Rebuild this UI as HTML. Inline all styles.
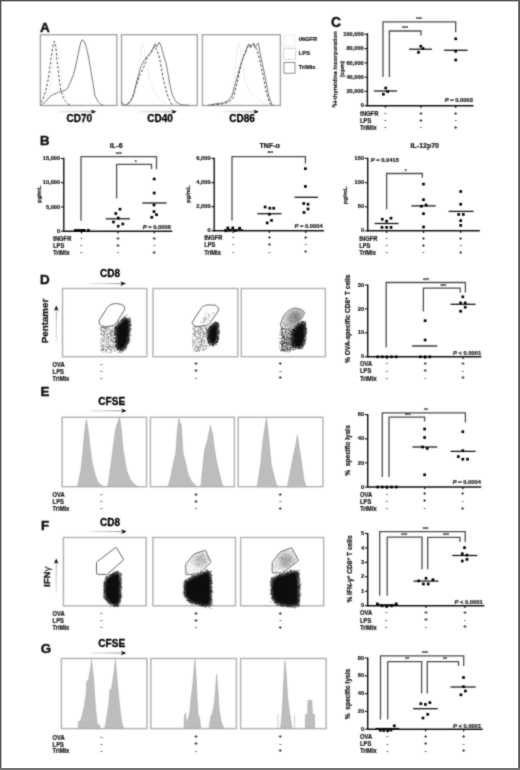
<!DOCTYPE html>
<html><head><meta charset="utf-8"><title>Figure</title>
<style>html,body{margin:0;padding:0;background:#fff;}svg{display:block;}</style>
</head><body>
<svg width="520" height="770" viewBox="0 0 520 770" font-family='"Liberation Sans", Arial, sans-serif'>
<defs><linearGradient id="gh" x1="0" y1="0" x2="1" y2="0"><stop offset="0" stop-color="#e4e4e4"/><stop offset="0.5" stop-color="#c4c4c4"/><stop offset="1" stop-color="#8a8a8a"/></linearGradient><linearGradient id="gv" x1="0" y1="1" x2="0" y2="0"><stop offset="0" stop-color="#e4e4e4"/><stop offset="0.5" stop-color="#c8c8c8"/><stop offset="1" stop-color="#999"/></linearGradient><filter id="blur1" x="-20%" y="-20%" width="140%" height="140%"><feGaussianBlur stdDeviation="0.9"/></filter><filter id="blurS" x="-10%" y="-10%" width="120%" height="120%"><feGaussianBlur stdDeviation="0.4"/></filter><filter id="gblur" x="0" y="0" width="520" height="770" filterUnits="userSpaceOnUse"><feConvolveMatrix order="3" kernelMatrix="0.03 0.1 0.03 0.1 0.5 0.1 0.03 0.1 0.03" edgeMode="none"/></filter><filter id="blur2" x="-20%" y="-20%" width="140%" height="140%"><feGaussianBlur stdDeviation="1.0"/></filter></defs>
<rect width="520" height="770" fill="#fff"/>
<g filter="url(#gblur)">
<text x="40" y="31.74" font-size="13.6" font-weight="bold" text-anchor="start" fill="#111" stroke="#111" stroke-width="0.41">A</text>
<rect x="40.4" y="34.7" width="76.5" height="70.8" stroke="#a5a5a5" fill="none" stroke-width="1.4"/>
<rect x="121.5" y="34.7" width="75.8" height="70.8" stroke="#a5a5a5" fill="none" stroke-width="1.4"/>
<rect x="202.4" y="34.7" width="78" height="70.8" stroke="#a5a5a5" fill="none" stroke-width="1.4"/>
<rect x="58.65" y="111.3" width="35.5" height="1" fill="url(#gh)"/>
<path d="M90.65 109.5 L96.15 111.8 L90.65 114.1 L92.15 111.8Z" stroke="none" fill="#000" stroke-width="1"/>
<text x="79.25" y="122" font-size="10" font-weight="bold" text-anchor="middle" fill="#000" stroke="#000" stroke-width="0.3">CD70</text>
<rect x="139.4" y="111.3" width="35.5" height="1" fill="url(#gh)"/>
<path d="M171.4 109.5 L176.9 111.8 L171.4 114.1 L172.9 111.8Z" stroke="none" fill="#000" stroke-width="1"/>
<text x="160" y="122" font-size="10" font-weight="bold" text-anchor="middle" fill="#000" stroke="#000" stroke-width="0.3">CD40</text>
<rect x="221.4" y="111.3" width="35.5" height="1" fill="url(#gh)"/>
<path d="M253.4 109.5 L258.9 111.8 L253.4 114.1 L254.9 111.8Z" stroke="none" fill="#000" stroke-width="1"/>
<text x="242" y="122" font-size="10" font-weight="bold" text-anchor="middle" fill="#000" stroke="#000" stroke-width="0.3">CD86</text>
<path d="M43 104 L47 99 L50 86 L52.5 62 L54.5 47 L56 44 L58 52 L60 70 L62.5 88 L65.5 99 L69 104.5" stroke="#ebebeb" fill="none" stroke-width="0.9" stroke-linejoin="round"/>
<path d="M130 103 L134 96 L137 82 L139.5 62 L141.5 47 L142.4 43.8 L144 48 L146.5 62 L149.5 79.3 L153 89 L155.9 95 L160 100 L166 103.5" stroke="#ebebeb" fill="none" stroke-width="0.9" stroke-linejoin="round"/>
<path d="M224 104.5 L229 101 L231.5 96 L234 80 L236 58 L237.6 45 L238.6 42.3 L240 48 L242 62 L245.7 82.5 L249 90 L253.6 95.1 L258 99.5 L262 102 L268 104.5" stroke="#ebebeb" fill="none" stroke-width="0.9" stroke-linejoin="round"/>
<path d="M40.6 105 L41.2 104.6 L45.9 101.4 L50.6 95.9 L53.8 94.3 L57.7 92.7 L60.9 91.1 L64 91.1 L67.2 88.8 L70.3 82.5 L73.5 74.6 L75.9 65.1 L78.2 54.1 L79.8 46.2 L81.4 40.7 L83 39.9 L85.3 43.8 L86.9 49.4 L88.5 57.2 L90.8 69.9 L92.9 82.5 L94.8 95.1 L97.9 101.4 L101.1 104.6 L103.5 105.3" stroke="#555" fill="none" stroke-width="0.8" stroke-linejoin="round"/>
<path d="M121.7 101.4 L123.5 105 L127.5 104.6 L130.6 101.4 L133.8 94.3 L136.1 84 L138.5 74.6 L140.9 66.7 L144 60.4 L146.4 57.2 L150.3 53.3 L153.5 47.8 L155.1 43.8 L156.6 47 L159.3 42.3 L161.4 47 L163.7 55.7 L166.1 63.5 L168.2 74.6 L170 85.6 L172.4 95.1 L175.6 101.4 L181.1 104.9 L189 105.3" stroke="#555" fill="none" stroke-width="0.8" stroke-linejoin="round"/>
<path d="M207.9 105.3 L215.8 103.8 L223.7 103 L229.2 99.8 L232.3 95.1 L234.7 85.6 L237.9 74.6 L241 63.5 L243.4 57.2 L245.7 52.5 L247.3 46.2 L248.9 43.8 L250.5 47.8 L252 44.6 L253.6 43 L255.2 47.8 L256.8 44.6 L258.4 43 L259.9 52.5 L262.3 63.5 L264.7 74.6 L267 87.2 L269.4 98.2 L271.8 104.6 L273.5 105.3" stroke="#555" fill="none" stroke-width="0.8" stroke-linejoin="round"/>
<path d="M40.6 102.5 L42.8 99.5 L46 90 L48.5 78 L50.9 60 L52.5 48 L54.3 41.4 L55.8 47 L57 60 L58.8 75 L60.7 90 L63 97 L65.5 101.5 L68 104 L70.3 105.2" stroke="#4a4a4a" fill="none" stroke-width="1" stroke-dasharray="2.6 1.8" stroke-linejoin="round"/>
<path d="M127.5 103.8 L132.2 98.2 L136.1 85.6 L140.1 74.6 L144 66.7 L147.2 57.2 L151.1 52.5 L154.3 46.2 L156.6 49.4 L159 55.7 L161.4 68.3 L163.7 80.9 L166.9 93.5 L170 101.4 L172.4 105.3" stroke="#4a4a4a" fill="none" stroke-width="1" stroke-dasharray="2.6 1.8" stroke-linejoin="round"/>
<path d="M212 105 L222 104 L229 102 L233.1 98.2 L235.5 89 L237.9 79.3 L240.3 68 L242.6 58.8 L245 52 L247.3 47.8 L249.5 45 L251.5 46.5 L253.5 44.5 L255 47 L256.8 49.4 L259 57 L261.5 68.3 L264 80 L266.2 92 L268.3 99 L270.2 103.8 L272 105.3" stroke="#4a4a4a" fill="none" stroke-width="1" stroke-dasharray="2.6 1.8" stroke-linejoin="round"/>
<rect x="284" y="35.3" width="11" height="11" stroke="#ececec" fill="none" stroke-width="0.9"/>
<rect x="284" y="48.8" width="11" height="10.6" stroke="#777" fill="none" stroke-width="0.9"/>
<rect x="284" y="48.8" width="11" height="10.6" fill="#fff" stroke="#fff" stroke-width="1.2" stroke-dasharray="1.2 1.4"/>
<rect x="284" y="62.4" width="11" height="10.8" stroke="#808080" fill="none" stroke-width="0.9"/>
<text x="298.8" y="40.88" font-size="5.8" font-weight="bold" text-anchor="start" fill="#111" stroke="#111" stroke-width="0.18">tNGFR</text>
<text x="298.8" y="54.78" font-size="5.8" font-weight="bold" text-anchor="start" fill="#111" stroke="#111" stroke-width="0.18">LPS</text>
<text x="298.8" y="69.28" font-size="5.8" font-weight="bold" text-anchor="start" fill="#111" stroke="#111" stroke-width="0.18">TriMix</text>
<text x="331" y="26.88" font-size="13.8" font-weight="bold" text-anchor="start" fill="#111" stroke="#111" stroke-width="0.41">C</text>
<line x1="367.4" y1="33.2" x2="367.4" y2="106.3" stroke="#111" stroke-width="1.4"/>
<line x1="366.8" y1="105.7" x2="473.5" y2="105.7" stroke="#111" stroke-width="1.4"/>
<line x1="364.6" y1="34.3" x2="367.4" y2="34.3" stroke="#111" stroke-width="1.1"/>
<text x="363.8" y="35.94" font-size="5.7" font-weight="bold" text-anchor="end" fill="#111" stroke="#111" stroke-width="0.18">100,000</text>
<line x1="364.6" y1="48.6" x2="367.4" y2="48.6" stroke="#111" stroke-width="1.1"/>
<text x="363.8" y="50.24" font-size="5.7" font-weight="bold" text-anchor="end" fill="#111" stroke="#111" stroke-width="0.18">80,000</text>
<line x1="364.6" y1="62.9" x2="367.4" y2="62.9" stroke="#111" stroke-width="1.1"/>
<text x="363.8" y="64.54" font-size="5.7" font-weight="bold" text-anchor="end" fill="#111" stroke="#111" stroke-width="0.18">60,000</text>
<line x1="364.6" y1="77.2" x2="367.4" y2="77.2" stroke="#111" stroke-width="1.1"/>
<text x="363.8" y="78.84" font-size="5.7" font-weight="bold" text-anchor="end" fill="#111" stroke="#111" stroke-width="0.18">40,000</text>
<line x1="364.6" y1="91.4" x2="367.4" y2="91.4" stroke="#111" stroke-width="1.1"/>
<text x="363.8" y="93.04" font-size="5.7" font-weight="bold" text-anchor="end" fill="#111" stroke="#111" stroke-width="0.18">20,000</text>
<line x1="364.6" y1="105.7" x2="367.4" y2="105.7" stroke="#111" stroke-width="1.1"/>
<text x="363.8" y="107.34" font-size="5.7" font-weight="bold" text-anchor="end" fill="#111" stroke="#111" stroke-width="0.18">0</text>
<line x1="385.5" y1="105.7" x2="385.5" y2="107.9" stroke="#111" stroke-width="1.2"/>
<line x1="421" y1="105.7" x2="421" y2="107.9" stroke="#111" stroke-width="1.2"/>
<line x1="455.7" y1="105.7" x2="455.7" y2="107.9" stroke="#111" stroke-width="1.2"/>
<path d="M383 77 L383 21.8 L455.7 21.8 L455.7 32.3" stroke="#4d4d4d" fill="none" stroke-width="1.3" stroke-linejoin="miter"/>
<text x="419" y="20.99" font-size="5" font-weight="bold" text-anchor="middle" fill="#444" stroke="#444" stroke-width="0.18">***</text>
<path d="M389.4 77 L389.4 31 L421 31 L421 35.4" stroke="#4d4d4d" fill="none" stroke-width="1.3" stroke-linejoin="miter"/>
<text x="405" y="30.19" font-size="5" font-weight="bold" text-anchor="middle" fill="#444" stroke="#444" stroke-width="0.18">***</text>
<line x1="373.8" y1="91" x2="397" y2="91" stroke="#111" stroke-width="1.25"/>
<line x1="409" y1="49.2" x2="432" y2="49.2" stroke="#111" stroke-width="1.25"/>
<line x1="444" y1="50.3" x2="467.7" y2="50.3" stroke="#111" stroke-width="1.25"/>
<rect x="384.35" y="86.65" width="2.7" height="2.7" fill="#000"/>
<rect x="386.35" y="90.15" width="2.7" height="2.7" fill="#000"/>
<rect x="382.05" y="92.85" width="2.7" height="2.7" fill="#000"/>
<rect x="419.45" y="44.85" width="2.7" height="2.7" fill="#000"/>
<rect x="421.65" y="47.15" width="2.7" height="2.7" fill="#000"/>
<rect x="417.15" y="50.95" width="2.7" height="2.7" fill="#000"/>
<rect x="454.35" y="37.45" width="2.7" height="2.7" fill="#000"/>
<rect x="454.35" y="49.85" width="2.7" height="2.7" fill="#000"/>
<rect x="454.35" y="58.65" width="2.7" height="2.7" fill="#000"/>
<text x="473" y="102.08" font-size="5.8" font-weight="bold" text-anchor="end" fill="#111" stroke="#111" stroke-width="0.18"><tspan font-style="italic">P</tspan> = 0.0003</text>
<text x="360" y="116.03" font-size="6.5" font-weight="bold" fill="#111" stroke="#111" stroke-width="0.18" textLength="18.36" lengthAdjust="spacingAndGlyphs">tNGFR</text>
<text x="360" y="123.13" font-size="6.5" font-weight="bold" fill="#111" stroke="#111" stroke-width="0.18" textLength="11.28" lengthAdjust="spacingAndGlyphs">LPS</text>
<text x="360" y="130.33" font-size="6.5" font-weight="bold" fill="#111" stroke="#111" stroke-width="0.18" textLength="16.76" lengthAdjust="spacingAndGlyphs">TriMix</text>
<text x="385.5" y="115.13" font-size="5.4" font-weight="bold" text-anchor="middle" fill="#444" stroke="#444" stroke-width="0.18">-</text>
<text x="385.5" y="122.23" font-size="5.4" font-weight="bold" text-anchor="middle" fill="#444" stroke="#444" stroke-width="0.18">-</text>
<text x="385.5" y="129.43" font-size="5.4" font-weight="bold" text-anchor="middle" fill="#444" stroke="#444" stroke-width="0.18">-</text>
<text x="421" y="114.69" font-size="5" font-weight="bold" text-anchor="middle" fill="#111" stroke="#111" stroke-width="0.18">+</text>
<text x="421" y="121.79" font-size="5" font-weight="bold" text-anchor="middle" fill="#111" stroke="#111" stroke-width="0.18">+</text>
<text x="421" y="129.43" font-size="5.4" font-weight="bold" text-anchor="middle" fill="#444" stroke="#444" stroke-width="0.18">-</text>
<text x="455.7" y="114.69" font-size="5" font-weight="bold" text-anchor="middle" fill="#111" stroke="#111" stroke-width="0.18">+</text>
<text x="455.7" y="122.23" font-size="5.4" font-weight="bold" text-anchor="middle" fill="#444" stroke="#444" stroke-width="0.18">-</text>
<text x="455.7" y="128.99" font-size="5" font-weight="bold" text-anchor="middle" fill="#111" stroke="#111" stroke-width="0.18">+</text>
<text x="336.63" y="69.4" font-size="5.95" font-weight="bold" text-anchor="middle" fill="#111" stroke="#111" stroke-width="0.18" transform="rotate(-90 336.63 69.4)"><tspan font-size="3.8" dy="-2">3</tspan><tspan dy="2">H-thymidine incorporation</tspan></text>
<text x="343.68" y="69" font-size="5.8" font-weight="bold" text-anchor="middle" fill="#111" stroke="#111" stroke-width="0.18" transform="rotate(-90 343.68 69)">(cpm)</text>
<text x="40" y="145.45" font-size="13.2" font-weight="bold" text-anchor="start" fill="#111" stroke="#111" stroke-width="0.4">B</text>
<line x1="63.8" y1="157.8" x2="63.8" y2="231.8" stroke="#111" stroke-width="1.4"/>
<line x1="63.2" y1="231.2" x2="172.3" y2="231.2" stroke="#111" stroke-width="1.4"/>
<line x1="61" y1="158.5" x2="63.8" y2="158.5" stroke="#111" stroke-width="1.1"/>
<text x="60.2" y="160.14" font-size="5.7" font-weight="bold" text-anchor="end" fill="#111" stroke="#111" stroke-width="0.18">15,000</text>
<line x1="61" y1="182.7" x2="63.8" y2="182.7" stroke="#111" stroke-width="1.1"/>
<text x="60.2" y="184.34" font-size="5.7" font-weight="bold" text-anchor="end" fill="#111" stroke="#111" stroke-width="0.18">10,000</text>
<line x1="61" y1="207" x2="63.8" y2="207" stroke="#111" stroke-width="1.1"/>
<text x="60.2" y="208.64" font-size="5.7" font-weight="bold" text-anchor="end" fill="#111" stroke="#111" stroke-width="0.18">5,000</text>
<line x1="61" y1="231.2" x2="63.8" y2="231.2" stroke="#111" stroke-width="1.1"/>
<text x="60.2" y="232.84" font-size="5.7" font-weight="bold" text-anchor="end" fill="#111" stroke="#111" stroke-width="0.18">0</text>
<line x1="81.5" y1="231.2" x2="81.5" y2="233.4" stroke="#111" stroke-width="1.2"/>
<line x1="118" y1="231.2" x2="118" y2="233.4" stroke="#111" stroke-width="1.2"/>
<line x1="154.3" y1="231.2" x2="154.3" y2="233.4" stroke="#111" stroke-width="1.2"/>
<text x="116.2" y="148.01" font-size="7" font-weight="bold" text-anchor="middle" fill="#111" stroke="#111" stroke-width="0.21" letter-spacing="0.15">IL-6</text>
<path d="M81 220.8 L81 156.6 L156.5 156.6 L156.5 169.2" stroke="#4d4d4d" fill="none" stroke-width="1.3" stroke-linejoin="miter"/>
<text x="118.7" y="155.59" font-size="5" font-weight="bold" text-anchor="middle" fill="#444" stroke="#444" stroke-width="0.18">***</text>
<path d="M116.6 198.5 L116.6 164.3 L151.5 164.3 L151.5 169" stroke="#4d4d4d" fill="none" stroke-width="1.3" stroke-linejoin="miter"/>
<text x="135.7" y="163.59" font-size="5" font-weight="bold" text-anchor="middle" fill="#444" stroke="#444" stroke-width="0.18">*</text>
<line x1="105.8" y1="218.8" x2="130" y2="218.8" stroke="#111" stroke-width="1.25"/>
<line x1="142.3" y1="203" x2="166.5" y2="203" stroke="#111" stroke-width="1.25"/>
<rect x="73.95" y="229.05" width="2.7" height="2.7" fill="#000"/>
<rect x="76.45" y="229.05" width="2.7" height="2.7" fill="#000"/>
<rect x="78.95" y="229.15" width="2.7" height="2.7" fill="#000"/>
<rect x="80.95" y="229.05" width="2.7" height="2.7" fill="#000"/>
<rect x="83.05" y="229.05" width="2.7" height="2.7" fill="#000"/>
<rect x="87.05" y="228.95" width="2.7" height="2.7" fill="#000"/>
<rect x="118.65" y="207.85" width="2.7" height="2.7" fill="#000"/>
<rect x="114.45" y="212.15" width="2.7" height="2.7" fill="#000"/>
<rect x="116.85" y="216.65" width="2.7" height="2.7" fill="#000"/>
<rect x="112.15" y="220.65" width="2.7" height="2.7" fill="#000"/>
<rect x="121.45" y="222.65" width="2.7" height="2.7" fill="#000"/>
<rect x="116.85" y="224.85" width="2.7" height="2.7" fill="#000"/>
<rect x="152.85" y="177.65" width="2.7" height="2.7" fill="#000"/>
<rect x="152.85" y="191.65" width="2.7" height="2.7" fill="#000"/>
<rect x="152.65" y="203.65" width="2.7" height="2.7" fill="#000"/>
<rect x="152.65" y="210.25" width="2.7" height="2.7" fill="#000"/>
<rect x="155.15" y="213.35" width="2.7" height="2.7" fill="#000"/>
<rect x="150.45" y="215.95" width="2.7" height="2.7" fill="#000"/>
<text x="171" y="228.58" font-size="5.8" font-weight="bold" text-anchor="end" fill="#111" stroke="#111" stroke-width="0.18"><tspan font-style="italic">P</tspan> = 0.0006</text>
<text x="53" y="241.03" font-size="6.5" font-weight="bold" fill="#111" stroke="#111" stroke-width="0.18" textLength="18.36" lengthAdjust="spacingAndGlyphs">tNGFR</text>
<text x="53" y="248.03" font-size="6.5" font-weight="bold" fill="#111" stroke="#111" stroke-width="0.18" textLength="11.28" lengthAdjust="spacingAndGlyphs">LPS</text>
<text x="53" y="255.13" font-size="6.5" font-weight="bold" fill="#111" stroke="#111" stroke-width="0.18" textLength="16.76" lengthAdjust="spacingAndGlyphs">TriMix</text>
<text x="81.5" y="240.13" font-size="5.4" font-weight="bold" text-anchor="middle" fill="#444" stroke="#444" stroke-width="0.18">-</text>
<text x="81.5" y="247.13" font-size="5.4" font-weight="bold" text-anchor="middle" fill="#444" stroke="#444" stroke-width="0.18">-</text>
<text x="81.5" y="254.23" font-size="5.4" font-weight="bold" text-anchor="middle" fill="#444" stroke="#444" stroke-width="0.18">-</text>
<text x="118" y="239.69" font-size="5" font-weight="bold" text-anchor="middle" fill="#111" stroke="#111" stroke-width="0.18">+</text>
<text x="118" y="246.69" font-size="5" font-weight="bold" text-anchor="middle" fill="#111" stroke="#111" stroke-width="0.18">+</text>
<text x="118" y="254.23" font-size="5.4" font-weight="bold" text-anchor="middle" fill="#444" stroke="#444" stroke-width="0.18">-</text>
<text x="154.3" y="239.69" font-size="5" font-weight="bold" text-anchor="middle" fill="#111" stroke="#111" stroke-width="0.18">+</text>
<text x="154.3" y="247.13" font-size="5.4" font-weight="bold" text-anchor="middle" fill="#444" stroke="#444" stroke-width="0.18">-</text>
<text x="154.3" y="253.79" font-size="5" font-weight="bold" text-anchor="middle" fill="#111" stroke="#111" stroke-width="0.18">+</text>
<text x="40.68" y="194.4" font-size="5.8" font-weight="bold" text-anchor="middle" fill="#111" stroke="#111" stroke-width="0.18" transform="rotate(-90 40.68 194.4)">pg/mL</text>
<line x1="214.2" y1="157.8" x2="214.2" y2="231.4" stroke="#111" stroke-width="1.4"/>
<line x1="213.6" y1="230.8" x2="324" y2="230.8" stroke="#111" stroke-width="1.4"/>
<line x1="211.4" y1="158.4" x2="214.2" y2="158.4" stroke="#111" stroke-width="1.1"/>
<text x="210.6" y="160.04" font-size="5.7" font-weight="bold" text-anchor="end" fill="#111" stroke="#111" stroke-width="0.18">6,000</text>
<line x1="211.4" y1="182.6" x2="214.2" y2="182.6" stroke="#111" stroke-width="1.1"/>
<text x="210.6" y="184.24" font-size="5.7" font-weight="bold" text-anchor="end" fill="#111" stroke="#111" stroke-width="0.18">4,000</text>
<line x1="211.4" y1="206.7" x2="214.2" y2="206.7" stroke="#111" stroke-width="1.1"/>
<text x="210.6" y="208.34" font-size="5.7" font-weight="bold" text-anchor="end" fill="#111" stroke="#111" stroke-width="0.18">2,000</text>
<line x1="211.4" y1="230.8" x2="214.2" y2="230.8" stroke="#111" stroke-width="1.1"/>
<text x="210.6" y="232.44" font-size="5.7" font-weight="bold" text-anchor="end" fill="#111" stroke="#111" stroke-width="0.18">0</text>
<line x1="233.2" y1="230.8" x2="233.2" y2="233" stroke="#111" stroke-width="1.2"/>
<line x1="269.4" y1="230.8" x2="269.4" y2="233" stroke="#111" stroke-width="1.2"/>
<line x1="305.7" y1="230.8" x2="305.7" y2="233" stroke="#111" stroke-width="1.2"/>
<text x="269.7" y="147.91" font-size="7" font-weight="bold" text-anchor="middle" fill="#111" stroke="#111" stroke-width="0.21">TNF-α</text>
<path d="M232 220.4 L232 156.6 L305.4 156.6 L305.4 163.5" stroke="#4d4d4d" fill="none" stroke-width="1.3" stroke-linejoin="miter"/>
<text x="270.3" y="154.89" font-size="5" font-weight="bold" text-anchor="middle" fill="#444" stroke="#444" stroke-width="0.18">***</text>
<line x1="257.3" y1="213.7" x2="281.5" y2="213.7" stroke="#111" stroke-width="1.25"/>
<line x1="294.5" y1="197.3" x2="317.9" y2="197.3" stroke="#111" stroke-width="1.25"/>
<rect x="224.45" y="229.45" width="2.7" height="2.7" fill="#000"/>
<rect x="226.45" y="226.55" width="2.7" height="2.7" fill="#000"/>
<rect x="228.45" y="228.85" width="2.7" height="2.7" fill="#000"/>
<rect x="231.45" y="226.55" width="2.7" height="2.7" fill="#000"/>
<rect x="233.95" y="229.15" width="2.7" height="2.7" fill="#000"/>
<rect x="238.25" y="226.85" width="2.7" height="2.7" fill="#000"/>
<line x1="224" y1="229.8" x2="243" y2="229.8" stroke="#111" stroke-width="1.25"/>
<rect x="263.75" y="205.65" width="2.7" height="2.7" fill="#000"/>
<rect x="268.45" y="206.85" width="2.7" height="2.7" fill="#000"/>
<rect x="272.35" y="206.85" width="2.7" height="2.7" fill="#000"/>
<rect x="268.05" y="212.85" width="2.7" height="2.7" fill="#000"/>
<rect x="270.15" y="219.05" width="2.7" height="2.7" fill="#000"/>
<rect x="265.85" y="221.55" width="2.7" height="2.7" fill="#000"/>
<rect x="304.05" y="167.35" width="2.7" height="2.7" fill="#000"/>
<rect x="304.05" y="185.05" width="2.7" height="2.7" fill="#000"/>
<rect x="302.35" y="202.15" width="2.7" height="2.7" fill="#000"/>
<rect x="306.65" y="202.85" width="2.7" height="2.7" fill="#000"/>
<rect x="306.65" y="207.65" width="2.7" height="2.7" fill="#000"/>
<rect x="302.65" y="211.15" width="2.7" height="2.7" fill="#000"/>
<text x="322.7" y="227.58" font-size="5.8" font-weight="bold" text-anchor="end" fill="#111" stroke="#111" stroke-width="0.18"><tspan font-style="italic">P</tspan> = 0.0004</text>
<text x="204.2" y="240.13" font-size="6.5" font-weight="bold" fill="#111" stroke="#111" stroke-width="0.18" textLength="18.36" lengthAdjust="spacingAndGlyphs">tNGFR</text>
<text x="204.2" y="247.33" font-size="6.5" font-weight="bold" fill="#111" stroke="#111" stroke-width="0.18" textLength="11.28" lengthAdjust="spacingAndGlyphs">LPS</text>
<text x="204.2" y="254.73" font-size="6.5" font-weight="bold" fill="#111" stroke="#111" stroke-width="0.18" textLength="16.76" lengthAdjust="spacingAndGlyphs">TriMix</text>
<text x="233.2" y="239.23" font-size="5.4" font-weight="bold" text-anchor="middle" fill="#444" stroke="#444" stroke-width="0.18">-</text>
<text x="233.2" y="246.43" font-size="5.4" font-weight="bold" text-anchor="middle" fill="#444" stroke="#444" stroke-width="0.18">-</text>
<text x="233.2" y="253.83" font-size="5.4" font-weight="bold" text-anchor="middle" fill="#444" stroke="#444" stroke-width="0.18">-</text>
<text x="269.4" y="238.79" font-size="5" font-weight="bold" text-anchor="middle" fill="#111" stroke="#111" stroke-width="0.18">+</text>
<text x="269.4" y="245.99" font-size="5" font-weight="bold" text-anchor="middle" fill="#111" stroke="#111" stroke-width="0.18">+</text>
<text x="269.4" y="253.83" font-size="5.4" font-weight="bold" text-anchor="middle" fill="#444" stroke="#444" stroke-width="0.18">-</text>
<text x="305.7" y="238.79" font-size="5" font-weight="bold" text-anchor="middle" fill="#111" stroke="#111" stroke-width="0.18">+</text>
<text x="305.7" y="246.43" font-size="5.4" font-weight="bold" text-anchor="middle" fill="#444" stroke="#444" stroke-width="0.18">-</text>
<text x="305.7" y="253.39" font-size="5" font-weight="bold" text-anchor="middle" fill="#111" stroke="#111" stroke-width="0.18">+</text>
<text x="190.51" y="194.2" font-size="5.9" font-weight="bold" text-anchor="middle" fill="#111" stroke="#111" stroke-width="0.18" transform="rotate(-90 190.51 194.2)">pg/mL</text>
<line x1="367.7" y1="157.8" x2="367.7" y2="231.4" stroke="#111" stroke-width="1.4"/>
<line x1="367.1" y1="230.8" x2="479.8" y2="230.8" stroke="#111" stroke-width="1.4"/>
<line x1="364.9" y1="158.4" x2="367.7" y2="158.4" stroke="#111" stroke-width="1.1"/>
<text x="364.1" y="160.04" font-size="5.7" font-weight="bold" text-anchor="end" fill="#111" stroke="#111" stroke-width="0.18">150</text>
<line x1="364.9" y1="182.7" x2="367.7" y2="182.7" stroke="#111" stroke-width="1.1"/>
<text x="364.1" y="184.34" font-size="5.7" font-weight="bold" text-anchor="end" fill="#111" stroke="#111" stroke-width="0.18">100</text>
<line x1="364.9" y1="206.7" x2="367.7" y2="206.7" stroke="#111" stroke-width="1.1"/>
<text x="364.1" y="208.34" font-size="5.7" font-weight="bold" text-anchor="end" fill="#111" stroke="#111" stroke-width="0.18">50</text>
<line x1="364.9" y1="230.8" x2="367.7" y2="230.8" stroke="#111" stroke-width="1.1"/>
<text x="364.1" y="232.44" font-size="5.7" font-weight="bold" text-anchor="end" fill="#111" stroke="#111" stroke-width="0.18">0</text>
<line x1="386.6" y1="230.8" x2="386.6" y2="233" stroke="#111" stroke-width="1.2"/>
<line x1="423.5" y1="230.8" x2="423.5" y2="233" stroke="#111" stroke-width="1.2"/>
<line x1="460.7" y1="230.8" x2="460.7" y2="233" stroke="#111" stroke-width="1.2"/>
<text x="424.8" y="148.11" font-size="7" font-weight="bold" text-anchor="middle" fill="#111" stroke="#111" stroke-width="0.21">IL-12p70</text>
<path d="M386.6 209.2 L386.6 173.5 L422.3 173.5 L422.3 177.7" stroke="#4d4d4d" fill="none" stroke-width="1.3" stroke-linejoin="miter"/>
<text x="405.7" y="172.79" font-size="5" font-weight="bold" text-anchor="middle" fill="#444" stroke="#444" stroke-width="0.18">*</text>
<line x1="374.6" y1="223.5" x2="398.5" y2="223.5" stroke="#111" stroke-width="1.25"/>
<line x1="411.4" y1="205.9" x2="435.7" y2="205.9" stroke="#111" stroke-width="1.25"/>
<line x1="448.6" y1="211.4" x2="473.7" y2="211.4" stroke="#111" stroke-width="1.25"/>
<rect x="380.95" y="217.85" width="2.7" height="2.7" fill="#000"/>
<rect x="385.25" y="219.85" width="2.7" height="2.7" fill="#000"/>
<rect x="389.65" y="216.85" width="2.7" height="2.7" fill="#000"/>
<rect x="380.65" y="226.05" width="2.7" height="2.7" fill="#000"/>
<rect x="385.25" y="226.05" width="2.7" height="2.7" fill="#000"/>
<rect x="389.65" y="226.05" width="2.7" height="2.7" fill="#000"/>
<rect x="422.15" y="182.75" width="2.7" height="2.7" fill="#000"/>
<rect x="422.15" y="198.35" width="2.7" height="2.7" fill="#000"/>
<rect x="419.95" y="204.85" width="2.7" height="2.7" fill="#000"/>
<rect x="424.75" y="203.65" width="2.7" height="2.7" fill="#000"/>
<rect x="422.15" y="212.35" width="2.7" height="2.7" fill="#000"/>
<rect x="422.15" y="225.65" width="2.7" height="2.7" fill="#000"/>
<rect x="459.35" y="190.15" width="2.7" height="2.7" fill="#000"/>
<rect x="459.35" y="202.85" width="2.7" height="2.7" fill="#000"/>
<rect x="457.35" y="213.05" width="2.7" height="2.7" fill="#000"/>
<rect x="461.95" y="213.05" width="2.7" height="2.7" fill="#000"/>
<rect x="459.35" y="219.25" width="2.7" height="2.7" fill="#000"/>
<rect x="459.35" y="224.05" width="2.7" height="2.7" fill="#000"/>
<text x="370.8" y="161.68" font-size="5.8" font-weight="bold" text-anchor="start" fill="#111" stroke="#111" stroke-width="0.18"><tspan font-style="italic">P</tspan> = 0.0415</text>
<text x="359.2" y="241.03" font-size="6.5" font-weight="bold" fill="#111" stroke="#111" stroke-width="0.18" textLength="18.36" lengthAdjust="spacingAndGlyphs">tNGFR</text>
<text x="359.2" y="248.23" font-size="6.5" font-weight="bold" fill="#111" stroke="#111" stroke-width="0.18" textLength="11.28" lengthAdjust="spacingAndGlyphs">LPS</text>
<text x="359.2" y="255.33" font-size="6.5" font-weight="bold" fill="#111" stroke="#111" stroke-width="0.18" textLength="16.76" lengthAdjust="spacingAndGlyphs">TriMix</text>
<text x="386.6" y="240.13" font-size="5.4" font-weight="bold" text-anchor="middle" fill="#444" stroke="#444" stroke-width="0.18">-</text>
<text x="386.6" y="247.33" font-size="5.4" font-weight="bold" text-anchor="middle" fill="#444" stroke="#444" stroke-width="0.18">-</text>
<text x="386.6" y="254.43" font-size="5.4" font-weight="bold" text-anchor="middle" fill="#444" stroke="#444" stroke-width="0.18">-</text>
<text x="423.5" y="239.69" font-size="5" font-weight="bold" text-anchor="middle" fill="#111" stroke="#111" stroke-width="0.18">+</text>
<text x="423.5" y="246.89" font-size="5" font-weight="bold" text-anchor="middle" fill="#111" stroke="#111" stroke-width="0.18">+</text>
<text x="423.5" y="254.43" font-size="5.4" font-weight="bold" text-anchor="middle" fill="#444" stroke="#444" stroke-width="0.18">-</text>
<text x="460.7" y="239.69" font-size="5" font-weight="bold" text-anchor="middle" fill="#111" stroke="#111" stroke-width="0.18">+</text>
<text x="460.7" y="247.33" font-size="5.4" font-weight="bold" text-anchor="middle" fill="#444" stroke="#444" stroke-width="0.18">-</text>
<text x="460.7" y="253.99" font-size="5" font-weight="bold" text-anchor="middle" fill="#111" stroke="#111" stroke-width="0.18">+</text>
<text x="346.51" y="195.5" font-size="5.9" font-weight="bold" text-anchor="middle" fill="#111" stroke="#111" stroke-width="0.18" transform="rotate(-90 346.51 195.5)">pg/mL</text>
<line x1="367.7" y1="284.4" x2="367.7" y2="357.4" stroke="#111" stroke-width="1.4"/>
<line x1="367.1" y1="356.8" x2="481.3" y2="356.8" stroke="#111" stroke-width="1.4"/>
<line x1="364.9" y1="285" x2="367.7" y2="285" stroke="#111" stroke-width="1.1"/>
<text x="364.1" y="286.64" font-size="5.7" font-weight="bold" text-anchor="end" fill="#111" stroke="#111" stroke-width="0.18">30</text>
<line x1="364.9" y1="308.9" x2="367.7" y2="308.9" stroke="#111" stroke-width="1.1"/>
<text x="364.1" y="310.54" font-size="5.7" font-weight="bold" text-anchor="end" fill="#111" stroke="#111" stroke-width="0.18">20</text>
<line x1="364.9" y1="332.8" x2="367.7" y2="332.8" stroke="#111" stroke-width="1.1"/>
<text x="364.1" y="334.44" font-size="5.7" font-weight="bold" text-anchor="end" fill="#111" stroke="#111" stroke-width="0.18">10</text>
<line x1="364.9" y1="356.7" x2="367.7" y2="356.7" stroke="#111" stroke-width="1.1"/>
<text x="364.1" y="358.34" font-size="5.7" font-weight="bold" text-anchor="end" fill="#111" stroke="#111" stroke-width="0.18">0</text>
<line x1="387" y1="356.8" x2="387" y2="359" stroke="#111" stroke-width="1.2"/>
<line x1="425.1" y1="356.8" x2="425.1" y2="359" stroke="#111" stroke-width="1.2"/>
<line x1="463" y1="356.8" x2="463" y2="359" stroke="#111" stroke-width="1.2"/>
<path d="M386.2 347.4 L386.2 282.5 L465.4 282.5 L465.4 292.5" stroke="#4d4d4d" fill="none" stroke-width="1.3" stroke-linejoin="miter"/>
<text x="426" y="281.99" font-size="5" font-weight="bold" text-anchor="middle" fill="#444" stroke="#444" stroke-width="0.18">***</text>
<path d="M423.4 311.5 L423.4 288.2 L460.2 288.2 L460.2 292.5" stroke="#4d4d4d" fill="none" stroke-width="1.3" stroke-linejoin="miter"/>
<text x="443.3" y="288.09" font-size="5" font-weight="bold" text-anchor="middle" fill="#444" stroke="#444" stroke-width="0.18">***</text>
<line x1="412" y1="346" x2="437.2" y2="346" stroke="#111" stroke-width="1.25"/>
<line x1="450.5" y1="304.3" x2="475.6" y2="304.3" stroke="#111" stroke-width="1.25"/>
<rect x="376.35" y="355.45" width="2.7" height="2.7" fill="#000"/>
<rect x="380.95" y="355.45" width="2.7" height="2.7" fill="#000"/>
<rect x="385.55" y="355.45" width="2.7" height="2.7" fill="#000"/>
<rect x="390.15" y="355.45" width="2.7" height="2.7" fill="#000"/>
<rect x="394.85" y="355.45" width="2.7" height="2.7" fill="#000"/>
<rect x="423.75" y="319.35" width="2.7" height="2.7" fill="#000"/>
<rect x="423.75" y="338.65" width="2.7" height="2.7" fill="#000"/>
<rect x="419.05" y="355.45" width="2.7" height="2.7" fill="#000"/>
<rect x="423.75" y="355.45" width="2.7" height="2.7" fill="#000"/>
<rect x="428.45" y="355.45" width="2.7" height="2.7" fill="#000"/>
<rect x="461.45" y="295.45" width="2.7" height="2.7" fill="#000"/>
<rect x="459.25" y="301.55" width="2.7" height="2.7" fill="#000"/>
<rect x="463.85" y="301.55" width="2.7" height="2.7" fill="#000"/>
<rect x="463.85" y="305.85" width="2.7" height="2.7" fill="#000"/>
<rect x="459.25" y="309.85" width="2.7" height="2.7" fill="#000"/>
<text x="481.3" y="354.58" font-size="5.8" font-weight="bold" text-anchor="end" fill="#111" stroke="#111" stroke-width="0.18"><tspan font-style="italic">P</tspan> &lt; 0.0001</text>
<text x="360" y="366.33" font-size="6.5" font-weight="bold" fill="#111" stroke="#111" stroke-width="0.18" textLength="12.14" lengthAdjust="spacingAndGlyphs">OVA</text>
<text x="360" y="373.43" font-size="6.5" font-weight="bold" fill="#111" stroke="#111" stroke-width="0.18" textLength="11.28" lengthAdjust="spacingAndGlyphs">LPS</text>
<text x="360" y="380.53" font-size="6.5" font-weight="bold" fill="#111" stroke="#111" stroke-width="0.18" textLength="16.76" lengthAdjust="spacingAndGlyphs">TriMix</text>
<text x="387" y="365.43" font-size="5.4" font-weight="bold" text-anchor="middle" fill="#444" stroke="#444" stroke-width="0.18">-</text>
<text x="387" y="372.53" font-size="5.4" font-weight="bold" text-anchor="middle" fill="#444" stroke="#444" stroke-width="0.18">-</text>
<text x="387" y="379.63" font-size="5.4" font-weight="bold" text-anchor="middle" fill="#444" stroke="#444" stroke-width="0.18">-</text>
<text x="425.1" y="364.99" font-size="5" font-weight="bold" text-anchor="middle" fill="#111" stroke="#111" stroke-width="0.18">+</text>
<text x="425.1" y="372.09" font-size="5" font-weight="bold" text-anchor="middle" fill="#111" stroke="#111" stroke-width="0.18">+</text>
<text x="425.1" y="379.63" font-size="5.4" font-weight="bold" text-anchor="middle" fill="#444" stroke="#444" stroke-width="0.18">-</text>
<text x="463" y="364.99" font-size="5" font-weight="bold" text-anchor="middle" fill="#111" stroke="#111" stroke-width="0.18">+</text>
<text x="463" y="372.53" font-size="5.4" font-weight="bold" text-anchor="middle" fill="#444" stroke="#444" stroke-width="0.18">-</text>
<text x="463" y="379.19" font-size="5" font-weight="bold" text-anchor="middle" fill="#111" stroke="#111" stroke-width="0.18">+</text>
<text x="350.06" y="318.8" font-size="6.6" font-weight="bold" text-anchor="middle" fill="#111" stroke="#111" stroke-width="0.2" transform="rotate(-90 350.06 318.8)">% OVA-specific CD8<tspan font-size="4.8" dy="-2.4">+</tspan><tspan dy="2.4"> T cells</tspan></text>
<line x1="367.7" y1="414" x2="367.7" y2="487.6" stroke="#111" stroke-width="1.4"/>
<line x1="367.1" y1="487" x2="481.3" y2="487" stroke="#111" stroke-width="1.4"/>
<line x1="364.9" y1="414.6" x2="367.7" y2="414.6" stroke="#111" stroke-width="1.1"/>
<text x="364.1" y="416.24" font-size="5.7" font-weight="bold" text-anchor="end" fill="#111" stroke="#111" stroke-width="0.18">60</text>
<line x1="364.9" y1="438.8" x2="367.7" y2="438.8" stroke="#111" stroke-width="1.1"/>
<text x="364.1" y="440.44" font-size="5.7" font-weight="bold" text-anchor="end" fill="#111" stroke="#111" stroke-width="0.18">40</text>
<line x1="364.9" y1="462.9" x2="367.7" y2="462.9" stroke="#111" stroke-width="1.1"/>
<text x="364.1" y="464.54" font-size="5.7" font-weight="bold" text-anchor="end" fill="#111" stroke="#111" stroke-width="0.18">20</text>
<line x1="364.9" y1="487" x2="367.7" y2="487" stroke="#111" stroke-width="1.1"/>
<text x="364.1" y="488.64" font-size="5.7" font-weight="bold" text-anchor="end" fill="#111" stroke="#111" stroke-width="0.18">0</text>
<line x1="387" y1="487" x2="387" y2="489.2" stroke="#111" stroke-width="1.2"/>
<line x1="424.6" y1="487" x2="424.6" y2="489.2" stroke="#111" stroke-width="1.2"/>
<line x1="462.8" y1="487" x2="462.8" y2="489.2" stroke="#111" stroke-width="1.2"/>
<path d="M382.3 477 L382.3 412.8 L465.4 412.8 L465.4 422.5" stroke="#4d4d4d" fill="none" stroke-width="1.3" stroke-linejoin="miter"/>
<text x="426" y="412.09" font-size="5" font-weight="bold" text-anchor="middle" fill="#444" stroke="#444" stroke-width="0.18">**</text>
<path d="M389 477 L389 417.2 L424.6 417.2 L424.6 421.6" stroke="#4d4d4d" fill="none" stroke-width="1.3" stroke-linejoin="miter"/>
<text x="407.8" y="417.29" font-size="5" font-weight="bold" text-anchor="middle" fill="#444" stroke="#444" stroke-width="0.18">***</text>
<line x1="412.5" y1="447" x2="437.2" y2="447" stroke="#111" stroke-width="1.25"/>
<line x1="450.5" y1="451.4" x2="475.6" y2="451.4" stroke="#111" stroke-width="1.25"/>
<rect x="376.35" y="485.65" width="2.7" height="2.7" fill="#000"/>
<rect x="380.95" y="485.65" width="2.7" height="2.7" fill="#000"/>
<rect x="385.55" y="485.65" width="2.7" height="2.7" fill="#000"/>
<rect x="390.15" y="485.65" width="2.7" height="2.7" fill="#000"/>
<rect x="394.85" y="485.65" width="2.7" height="2.7" fill="#000"/>
<rect x="423.25" y="427.65" width="2.7" height="2.7" fill="#000"/>
<rect x="423.25" y="436.15" width="2.7" height="2.7" fill="#000"/>
<rect x="421.15" y="445.65" width="2.7" height="2.7" fill="#000"/>
<rect x="425.85" y="447.05" width="2.7" height="2.7" fill="#000"/>
<rect x="423.25" y="473.45" width="2.7" height="2.7" fill="#000"/>
<rect x="461.45" y="430.35" width="2.7" height="2.7" fill="#000"/>
<rect x="461.45" y="449.35" width="2.7" height="2.7" fill="#000"/>
<rect x="456.95" y="455.25" width="2.7" height="2.7" fill="#000"/>
<rect x="461.45" y="457.85" width="2.7" height="2.7" fill="#000"/>
<rect x="466.15" y="457.85" width="2.7" height="2.7" fill="#000"/>
<text x="481" y="484.38" font-size="5.8" font-weight="bold" text-anchor="end" fill="#111" stroke="#111" stroke-width="0.18"><tspan font-style="italic">P</tspan> = 0.0004</text>
<text x="360" y="496.83" font-size="6.5" font-weight="bold" fill="#111" stroke="#111" stroke-width="0.18" textLength="12.14" lengthAdjust="spacingAndGlyphs">OVA</text>
<text x="360" y="503.83" font-size="6.5" font-weight="bold" fill="#111" stroke="#111" stroke-width="0.18" textLength="11.28" lengthAdjust="spacingAndGlyphs">LPS</text>
<text x="360" y="511.03" font-size="6.5" font-weight="bold" fill="#111" stroke="#111" stroke-width="0.18" textLength="16.76" lengthAdjust="spacingAndGlyphs">TriMix</text>
<text x="387" y="495.93" font-size="5.4" font-weight="bold" text-anchor="middle" fill="#444" stroke="#444" stroke-width="0.18">-</text>
<text x="387" y="502.93" font-size="5.4" font-weight="bold" text-anchor="middle" fill="#444" stroke="#444" stroke-width="0.18">-</text>
<text x="387" y="510.13" font-size="5.4" font-weight="bold" text-anchor="middle" fill="#444" stroke="#444" stroke-width="0.18">-</text>
<text x="424.6" y="495.49" font-size="5" font-weight="bold" text-anchor="middle" fill="#111" stroke="#111" stroke-width="0.18">+</text>
<text x="424.6" y="502.49" font-size="5" font-weight="bold" text-anchor="middle" fill="#111" stroke="#111" stroke-width="0.18">+</text>
<text x="424.6" y="510.13" font-size="5.4" font-weight="bold" text-anchor="middle" fill="#444" stroke="#444" stroke-width="0.18">-</text>
<text x="462.8" y="495.49" font-size="5" font-weight="bold" text-anchor="middle" fill="#111" stroke="#111" stroke-width="0.18">+</text>
<text x="462.8" y="502.93" font-size="5.4" font-weight="bold" text-anchor="middle" fill="#444" stroke="#444" stroke-width="0.18">-</text>
<text x="462.8" y="509.69" font-size="5" font-weight="bold" text-anchor="middle" fill="#111" stroke="#111" stroke-width="0.18">+</text>
<text x="350.06" y="450.4" font-size="6.6" font-weight="bold" text-anchor="middle" fill="#111" stroke="#111" stroke-width="0.2" transform="rotate(-90 350.06 450.4)">%&#160; specific lysis</text>
<line x1="367.7" y1="532.9" x2="367.7" y2="606.3" stroke="#111" stroke-width="1.4"/>
<line x1="367.1" y1="605.7" x2="484.3" y2="605.7" stroke="#111" stroke-width="1.4"/>
<line x1="364.9" y1="533.5" x2="367.7" y2="533.5" stroke="#111" stroke-width="1.1"/>
<text x="364.1" y="535.14" font-size="5.7" font-weight="bold" text-anchor="end" fill="#111" stroke="#111" stroke-width="0.18">5</text>
<line x1="364.9" y1="547.9" x2="367.7" y2="547.9" stroke="#111" stroke-width="1.1"/>
<text x="364.1" y="549.54" font-size="5.7" font-weight="bold" text-anchor="end" fill="#111" stroke="#111" stroke-width="0.18">4</text>
<line x1="364.9" y1="562.4" x2="367.7" y2="562.4" stroke="#111" stroke-width="1.1"/>
<text x="364.1" y="564.04" font-size="5.7" font-weight="bold" text-anchor="end" fill="#111" stroke="#111" stroke-width="0.18">3</text>
<line x1="364.9" y1="576.8" x2="367.7" y2="576.8" stroke="#111" stroke-width="1.1"/>
<text x="364.1" y="578.44" font-size="5.7" font-weight="bold" text-anchor="end" fill="#111" stroke="#111" stroke-width="0.18">2</text>
<line x1="364.9" y1="591.3" x2="367.7" y2="591.3" stroke="#111" stroke-width="1.1"/>
<text x="364.1" y="592.94" font-size="5.7" font-weight="bold" text-anchor="end" fill="#111" stroke="#111" stroke-width="0.18">1</text>
<line x1="364.9" y1="605.7" x2="367.7" y2="605.7" stroke="#111" stroke-width="1.1"/>
<text x="364.1" y="607.34" font-size="5.7" font-weight="bold" text-anchor="end" fill="#111" stroke="#111" stroke-width="0.18">0</text>
<line x1="386.5" y1="605.7" x2="386.5" y2="607.9" stroke="#111" stroke-width="1.2"/>
<line x1="426" y1="605.7" x2="426" y2="607.9" stroke="#111" stroke-width="1.2"/>
<line x1="464.9" y1="605.7" x2="464.9" y2="607.9" stroke="#111" stroke-width="1.2"/>
<path d="M379.7 595.8 L379.7 531.6 L465.2 531.6 L465.2 542.1" stroke="#4d4d4d" fill="none" stroke-width="1.3" stroke-linejoin="miter"/>
<text x="425.6" y="530.79" font-size="5" font-weight="bold" text-anchor="middle" fill="#444" stroke="#444" stroke-width="0.18">***</text>
<path d="M387.2 595.8 L387.2 537.2 L422 537.2 L422 569.3" stroke="#4d4d4d" fill="none" stroke-width="1.3" stroke-linejoin="miter"/>
<text x="404.2" y="537.09" font-size="5" font-weight="bold" text-anchor="middle" fill="#444" stroke="#444" stroke-width="0.18">***</text>
<path d="M427.7 569.3 L427.7 537.3 L460 537.3 L460 542" stroke="#4d4d4d" fill="none" stroke-width="1.3" stroke-linejoin="miter"/>
<text x="446" y="536.79" font-size="5" font-weight="bold" text-anchor="middle" fill="#444" stroke="#444" stroke-width="0.18">***</text>
<line x1="376" y1="604.8" x2="398" y2="604.8" stroke="#111" stroke-width="1.25"/>
<line x1="413.5" y1="581.1" x2="438.4" y2="581.1" stroke="#111" stroke-width="1.25"/>
<line x1="452.2" y1="555.5" x2="477.3" y2="555.5" stroke="#111" stroke-width="1.25"/>
<rect x="376.05" y="602.55" width="2.7" height="2.7" fill="#000"/>
<rect x="380.75" y="604.45" width="2.7" height="2.7" fill="#000"/>
<rect x="385.45" y="604.95" width="2.7" height="2.7" fill="#000"/>
<rect x="390.15" y="604.45" width="2.7" height="2.7" fill="#000"/>
<rect x="394.85" y="602.55" width="2.7" height="2.7" fill="#000"/>
<rect x="417.35" y="579.55" width="2.7" height="2.7" fill="#000"/>
<rect x="424.65" y="576.95" width="2.7" height="2.7" fill="#000"/>
<rect x="431.55" y="578.35" width="2.7" height="2.7" fill="#000"/>
<rect x="422.05" y="582.65" width="2.7" height="2.7" fill="#000"/>
<rect x="426.85" y="582.65" width="2.7" height="2.7" fill="#000"/>
<rect x="463.15" y="546.35" width="2.7" height="2.7" fill="#000"/>
<rect x="460.95" y="552.35" width="2.7" height="2.7" fill="#000"/>
<rect x="465.65" y="553.75" width="2.7" height="2.7" fill="#000"/>
<rect x="460.95" y="559.65" width="2.7" height="2.7" fill="#000"/>
<rect x="465.65" y="558.05" width="2.7" height="2.7" fill="#000"/>
<text x="482.7" y="603.88" font-size="5.8" font-weight="bold" text-anchor="end" fill="#111" stroke="#111" stroke-width="0.18"><tspan font-style="italic">P</tspan> &lt; 0.0001</text>
<text x="360" y="615.33" font-size="6.5" font-weight="bold" fill="#111" stroke="#111" stroke-width="0.18" textLength="12.14" lengthAdjust="spacingAndGlyphs">OVA</text>
<text x="360" y="622.53" font-size="6.5" font-weight="bold" fill="#111" stroke="#111" stroke-width="0.18" textLength="11.28" lengthAdjust="spacingAndGlyphs">LPS</text>
<text x="360" y="629.73" font-size="6.5" font-weight="bold" fill="#111" stroke="#111" stroke-width="0.18" textLength="16.76" lengthAdjust="spacingAndGlyphs">TriMix</text>
<text x="386.5" y="614.43" font-size="5.4" font-weight="bold" text-anchor="middle" fill="#444" stroke="#444" stroke-width="0.18">-</text>
<text x="386.5" y="621.63" font-size="5.4" font-weight="bold" text-anchor="middle" fill="#444" stroke="#444" stroke-width="0.18">-</text>
<text x="386.5" y="628.83" font-size="5.4" font-weight="bold" text-anchor="middle" fill="#444" stroke="#444" stroke-width="0.18">-</text>
<text x="426" y="613.99" font-size="5" font-weight="bold" text-anchor="middle" fill="#111" stroke="#111" stroke-width="0.18">+</text>
<text x="426" y="621.19" font-size="5" font-weight="bold" text-anchor="middle" fill="#111" stroke="#111" stroke-width="0.18">+</text>
<text x="426" y="628.83" font-size="5.4" font-weight="bold" text-anchor="middle" fill="#444" stroke="#444" stroke-width="0.18">-</text>
<text x="464.9" y="613.99" font-size="5" font-weight="bold" text-anchor="middle" fill="#111" stroke="#111" stroke-width="0.18">+</text>
<text x="464.9" y="621.63" font-size="5.4" font-weight="bold" text-anchor="middle" fill="#444" stroke="#444" stroke-width="0.18">-</text>
<text x="464.9" y="628.39" font-size="5" font-weight="bold" text-anchor="middle" fill="#111" stroke="#111" stroke-width="0.18">+</text>
<text x="352.36" y="569" font-size="6.6" font-weight="bold" text-anchor="middle" fill="#111" stroke="#111" stroke-width="0.2" transform="rotate(-90 352.36 569)">% IFN-γ<tspan font-size="4.8" dy="-2.4">+</tspan><tspan dy="2.4"> CD8</tspan><tspan font-size="4.8" dy="-2.4">+</tspan><tspan dy="2.4"> T cells</tspan></text>
<line x1="367.7" y1="657.4" x2="367.7" y2="729.8" stroke="#111" stroke-width="1.4"/>
<line x1="367.1" y1="729.2" x2="482.7" y2="729.2" stroke="#111" stroke-width="1.4"/>
<line x1="364.9" y1="658" x2="367.7" y2="658" stroke="#111" stroke-width="1.1"/>
<text x="364.1" y="659.64" font-size="5.7" font-weight="bold" text-anchor="end" fill="#111" stroke="#111" stroke-width="0.18">80</text>
<line x1="364.9" y1="675.8" x2="367.7" y2="675.8" stroke="#111" stroke-width="1.1"/>
<text x="364.1" y="677.44" font-size="5.7" font-weight="bold" text-anchor="end" fill="#111" stroke="#111" stroke-width="0.18">60</text>
<line x1="364.9" y1="693.6" x2="367.7" y2="693.6" stroke="#111" stroke-width="1.1"/>
<text x="364.1" y="695.24" font-size="5.7" font-weight="bold" text-anchor="end" fill="#111" stroke="#111" stroke-width="0.18">40</text>
<line x1="364.9" y1="711.4" x2="367.7" y2="711.4" stroke="#111" stroke-width="1.1"/>
<text x="364.1" y="713.04" font-size="5.7" font-weight="bold" text-anchor="end" fill="#111" stroke="#111" stroke-width="0.18">20</text>
<line x1="364.9" y1="729.2" x2="367.7" y2="729.2" stroke="#111" stroke-width="1.1"/>
<text x="364.1" y="730.84" font-size="5.7" font-weight="bold" text-anchor="end" fill="#111" stroke="#111" stroke-width="0.18">0</text>
<line x1="387.5" y1="729.2" x2="387.5" y2="731.4" stroke="#111" stroke-width="1.2"/>
<line x1="425.6" y1="729.2" x2="425.6" y2="731.4" stroke="#111" stroke-width="1.2"/>
<line x1="463.7" y1="729.2" x2="463.7" y2="731.4" stroke="#111" stroke-width="1.2"/>
<path d="M380.5 719.6 L380.5 655.9 L463.7 655.9 L463.7 666" stroke="#4d4d4d" fill="none" stroke-width="1.3" stroke-linejoin="miter"/>
<text x="425" y="655.09" font-size="5" font-weight="bold" text-anchor="middle" fill="#444" stroke="#444" stroke-width="0.18">***</text>
<path d="M387.7 719.6 L387.7 661.6 L421.6 661.6 L421.6 693.6" stroke="#4d4d4d" fill="none" stroke-width="1.3" stroke-linejoin="miter"/>
<text x="407.2" y="660.59" font-size="5" font-weight="bold" text-anchor="middle" fill="#444" stroke="#444" stroke-width="0.18">**</text>
<path d="M427.3 693.6 L427.3 661.6 L458.5 661.6 L458.5 666" stroke="#4d4d4d" fill="none" stroke-width="1.3" stroke-linejoin="miter"/>
<text x="445" y="660.79" font-size="5" font-weight="bold" text-anchor="middle" fill="#444" stroke="#444" stroke-width="0.18">**</text>
<line x1="375.4" y1="728.5" x2="399.2" y2="728.5" stroke="#111" stroke-width="1.25"/>
<line x1="413" y1="708.7" x2="437.7" y2="708.7" stroke="#111" stroke-width="1.25"/>
<line x1="450.5" y1="687" x2="475.6" y2="687" stroke="#111" stroke-width="1.25"/>
<rect x="378.95" y="728.95" width="2.7" height="2.7" fill="#000"/>
<rect x="382.45" y="729.15" width="2.7" height="2.7" fill="#000"/>
<rect x="386.35" y="729.45" width="2.7" height="2.7" fill="#000"/>
<rect x="389.65" y="728.65" width="2.7" height="2.7" fill="#000"/>
<rect x="392.95" y="724.45" width="2.7" height="2.7" fill="#000"/>
<rect x="419.45" y="702.35" width="2.7" height="2.7" fill="#000"/>
<rect x="424.05" y="703.05" width="2.7" height="2.7" fill="#000"/>
<rect x="428.55" y="701.25" width="2.7" height="2.7" fill="#000"/>
<rect x="426.35" y="712.95" width="2.7" height="2.7" fill="#000"/>
<rect x="421.65" y="716.65" width="2.7" height="2.7" fill="#000"/>
<rect x="462.15" y="676.15" width="2.7" height="2.7" fill="#000"/>
<rect x="462.15" y="685.35" width="2.7" height="2.7" fill="#000"/>
<rect x="464.05" y="689.65" width="2.7" height="2.7" fill="#000"/>
<rect x="459.55" y="693.45" width="2.7" height="2.7" fill="#000"/>
<text x="481.3" y="728.08" font-size="5.8" font-weight="bold" text-anchor="end" fill="#111" stroke="#111" stroke-width="0.18"><tspan font-style="italic">P</tspan> &lt; 0.0001</text>
<text x="360" y="739.03" font-size="6.5" font-weight="bold" fill="#111" stroke="#111" stroke-width="0.18" textLength="12.14" lengthAdjust="spacingAndGlyphs">OVA</text>
<text x="360" y="746.43" font-size="6.5" font-weight="bold" fill="#111" stroke="#111" stroke-width="0.18" textLength="11.28" lengthAdjust="spacingAndGlyphs">LPS</text>
<text x="360" y="753.43" font-size="6.5" font-weight="bold" fill="#111" stroke="#111" stroke-width="0.18" textLength="16.76" lengthAdjust="spacingAndGlyphs">TriMix</text>
<text x="387.5" y="738.13" font-size="5.4" font-weight="bold" text-anchor="middle" fill="#444" stroke="#444" stroke-width="0.18">-</text>
<text x="387.5" y="745.53" font-size="5.4" font-weight="bold" text-anchor="middle" fill="#444" stroke="#444" stroke-width="0.18">-</text>
<text x="387.5" y="752.53" font-size="5.4" font-weight="bold" text-anchor="middle" fill="#444" stroke="#444" stroke-width="0.18">-</text>
<text x="425.6" y="737.69" font-size="5" font-weight="bold" text-anchor="middle" fill="#111" stroke="#111" stroke-width="0.18">+</text>
<text x="425.6" y="745.09" font-size="5" font-weight="bold" text-anchor="middle" fill="#111" stroke="#111" stroke-width="0.18">+</text>
<text x="425.6" y="752.53" font-size="5.4" font-weight="bold" text-anchor="middle" fill="#444" stroke="#444" stroke-width="0.18">-</text>
<text x="463.7" y="737.69" font-size="5" font-weight="bold" text-anchor="middle" fill="#111" stroke="#111" stroke-width="0.18">+</text>
<text x="463.7" y="745.53" font-size="5.4" font-weight="bold" text-anchor="middle" fill="#444" stroke="#444" stroke-width="0.18">-</text>
<text x="463.7" y="752.09" font-size="5" font-weight="bold" text-anchor="middle" fill="#111" stroke="#111" stroke-width="0.18">+</text>
<text x="350.06" y="694" font-size="6.6" font-weight="bold" text-anchor="middle" fill="#111" stroke="#111" stroke-width="0.2" transform="rotate(-90 350.06 694)">%&#160; specific lysis</text>
<text x="40" y="283.89" font-size="13.4" font-weight="bold" text-anchor="start" fill="#111" stroke="#111" stroke-width="0.4">D</text>
<text x="110" y="276.7" font-size="10" font-weight="bold" text-anchor="middle" fill="#000" stroke="#000" stroke-width="0.3">CD8</text>
<rect x="89.8" y="283.1" width="34" height="1" fill="url(#gh)"/>
<path d="M120.3 281.3 L125.8 283.6 L120.3 285.9 L121.8 283.6Z" stroke="none" fill="#000" stroke-width="1"/>
<text x="48.41" y="321" font-size="9.8" font-weight="bold" text-anchor="middle" fill="#111" stroke="#111" stroke-width="0.29" transform="rotate(-90 48.41 321)">Pentamer</text>
<rect x="55.8" y="307.4" width="1" height="35" fill="url(#gv)"/>
<path d="M54 310.9 L56.3 305.4 L58.6 310.9 L56.3 309.4Z" stroke="none" fill="#000" stroke-width="1"/>
<rect x="62.5" y="288.5" width="84.3" height="68.2" stroke="#b5b5b5" fill="none" stroke-width="1.5"/>
<rect x="153" y="288.5" width="84.8" height="68.2" stroke="#b5b5b5" fill="none" stroke-width="1.5"/>
<rect x="241.3" y="288.5" width="84.1" height="68.2" stroke="#b5b5b5" fill="none" stroke-width="1.5"/>
<text x="52.6" y="366.53" font-size="6.5" font-weight="bold" fill="#111" stroke="#111" stroke-width="0.18" textLength="12.14" lengthAdjust="spacingAndGlyphs">OVA</text>
<text x="52.6" y="373.53" font-size="6.5" font-weight="bold" fill="#111" stroke="#111" stroke-width="0.18" textLength="11.28" lengthAdjust="spacingAndGlyphs">LPS</text>
<text x="52.6" y="380.53" font-size="6.5" font-weight="bold" fill="#111" stroke="#111" stroke-width="0.18" textLength="16.76" lengthAdjust="spacingAndGlyphs">TriMix</text>
<text x="101.5" y="365.63" font-size="5.4" font-weight="bold" text-anchor="middle" fill="#444" stroke="#444" stroke-width="0.18">-</text>
<text x="101.5" y="372.63" font-size="5.4" font-weight="bold" text-anchor="middle" fill="#444" stroke="#444" stroke-width="0.18">-</text>
<text x="101.5" y="379.63" font-size="5.4" font-weight="bold" text-anchor="middle" fill="#444" stroke="#444" stroke-width="0.18">-</text>
<text x="196" y="365.19" font-size="5" font-weight="bold" text-anchor="middle" fill="#111" stroke="#111" stroke-width="0.18">+</text>
<text x="196" y="372.19" font-size="5" font-weight="bold" text-anchor="middle" fill="#111" stroke="#111" stroke-width="0.18">+</text>
<text x="196" y="379.63" font-size="5.4" font-weight="bold" text-anchor="middle" fill="#444" stroke="#444" stroke-width="0.18">-</text>
<text x="280.3" y="365.19" font-size="5" font-weight="bold" text-anchor="middle" fill="#111" stroke="#111" stroke-width="0.18">+</text>
<text x="280.3" y="372.63" font-size="5.4" font-weight="bold" text-anchor="middle" fill="#444" stroke="#444" stroke-width="0.18">-</text>
<text x="280.3" y="379.19" font-size="5" font-weight="bold" text-anchor="middle" fill="#111" stroke="#111" stroke-width="0.18">+</text>
<text x="40.6" y="395.59" font-size="13.4" font-weight="bold" text-anchor="start" fill="#111" stroke="#111" stroke-width="0.4">E</text>
<text x="111.8" y="405.2" font-size="10.1" font-weight="bold" text-anchor="middle" fill="#000" stroke="#000" stroke-width="0.3">CFSE</text>
<rect x="89.2" y="410.3" width="35.4" height="1" fill="url(#gh)"/>
<path d="M121.1 408.5 L126.6 410.8 L121.1 413.1 L122.6 410.8Z" stroke="none" fill="#000" stroke-width="1"/>
<rect x="62.2" y="417.3" width="84.3" height="69.4" stroke="#b5b5b5" fill="none" stroke-width="1.5"/>
<rect x="150.4" y="417.3" width="84" height="69.4" stroke="#b5b5b5" fill="none" stroke-width="1.5"/>
<rect x="238.2" y="417.3" width="84.7" height="69.4" stroke="#b5b5b5" fill="none" stroke-width="1.5"/>
<text x="52.6" y="497.03" font-size="6.5" font-weight="bold" fill="#111" stroke="#111" stroke-width="0.18" textLength="12.14" lengthAdjust="spacingAndGlyphs">OVA</text>
<text x="52.6" y="504.13" font-size="6.5" font-weight="bold" fill="#111" stroke="#111" stroke-width="0.18" textLength="11.28" lengthAdjust="spacingAndGlyphs">LPS</text>
<text x="52.6" y="511.23" font-size="6.5" font-weight="bold" fill="#111" stroke="#111" stroke-width="0.18" textLength="16.76" lengthAdjust="spacingAndGlyphs">TriMix</text>
<text x="101.5" y="496.13" font-size="5.4" font-weight="bold" text-anchor="middle" fill="#444" stroke="#444" stroke-width="0.18">-</text>
<text x="101.5" y="503.23" font-size="5.4" font-weight="bold" text-anchor="middle" fill="#444" stroke="#444" stroke-width="0.18">-</text>
<text x="101.5" y="510.33" font-size="5.4" font-weight="bold" text-anchor="middle" fill="#444" stroke="#444" stroke-width="0.18">-</text>
<text x="196" y="495.69" font-size="5" font-weight="bold" text-anchor="middle" fill="#111" stroke="#111" stroke-width="0.18">+</text>
<text x="196" y="502.79" font-size="5" font-weight="bold" text-anchor="middle" fill="#111" stroke="#111" stroke-width="0.18">+</text>
<text x="196" y="510.33" font-size="5.4" font-weight="bold" text-anchor="middle" fill="#444" stroke="#444" stroke-width="0.18">-</text>
<text x="280.3" y="495.69" font-size="5" font-weight="bold" text-anchor="middle" fill="#111" stroke="#111" stroke-width="0.18">+</text>
<text x="280.3" y="503.23" font-size="5.4" font-weight="bold" text-anchor="middle" fill="#444" stroke="#444" stroke-width="0.18">-</text>
<text x="280.3" y="509.89" font-size="5" font-weight="bold" text-anchor="middle" fill="#111" stroke="#111" stroke-width="0.18">+</text>
<text x="41" y="530.39" font-size="13.4" font-weight="bold" text-anchor="start" fill="#111" stroke="#111" stroke-width="0.4">F</text>
<text x="110" y="525.8" font-size="10" font-weight="bold" text-anchor="middle" fill="#000" stroke="#000" stroke-width="0.3">CD8</text>
<rect x="89.2" y="531.1" width="35.4" height="1" fill="url(#gh)"/>
<path d="M121.1 529.3 L126.6 531.6 L121.1 533.9 L122.6 531.6Z" stroke="none" fill="#000" stroke-width="1"/>
<text x="49.67" y="576.8" font-size="9.7" font-weight="bold" text-anchor="middle" fill="#111" stroke="#111" stroke-width="0.29" transform="rotate(-90 49.67 576.8)">IFN<tspan font-weight="normal" stroke-width="0.1">γ</tspan></text>
<rect x="55.7" y="560.4" width="1" height="33.1" fill="url(#gv)"/>
<path d="M53.9 563.9 L56.2 558.4 L58.5 563.9 L56.2 562.4Z" stroke="none" fill="#000" stroke-width="1"/>
<rect x="63.4" y="537.5" width="82.8" height="68.3" stroke="#b5b5b5" fill="none" stroke-width="1.5"/>
<rect x="152.9" y="537.5" width="82.6" height="68.3" stroke="#b5b5b5" fill="none" stroke-width="1.5"/>
<rect x="240.6" y="537.5" width="83.1" height="68.3" stroke="#b5b5b5" fill="none" stroke-width="1.5"/>
<text x="52.6" y="616.03" font-size="6.5" font-weight="bold" fill="#111" stroke="#111" stroke-width="0.18" textLength="12.14" lengthAdjust="spacingAndGlyphs">OVA</text>
<text x="52.6" y="623.13" font-size="6.5" font-weight="bold" fill="#111" stroke="#111" stroke-width="0.18" textLength="11.28" lengthAdjust="spacingAndGlyphs">LPS</text>
<text x="52.6" y="630.13" font-size="6.5" font-weight="bold" fill="#111" stroke="#111" stroke-width="0.18" textLength="16.76" lengthAdjust="spacingAndGlyphs">TriMix</text>
<text x="101.5" y="615.13" font-size="5.4" font-weight="bold" text-anchor="middle" fill="#444" stroke="#444" stroke-width="0.18">-</text>
<text x="101.5" y="622.23" font-size="5.4" font-weight="bold" text-anchor="middle" fill="#444" stroke="#444" stroke-width="0.18">-</text>
<text x="101.5" y="629.23" font-size="5.4" font-weight="bold" text-anchor="middle" fill="#444" stroke="#444" stroke-width="0.18">-</text>
<text x="196" y="614.69" font-size="5" font-weight="bold" text-anchor="middle" fill="#111" stroke="#111" stroke-width="0.18">+</text>
<text x="196" y="621.79" font-size="5" font-weight="bold" text-anchor="middle" fill="#111" stroke="#111" stroke-width="0.18">+</text>
<text x="196" y="629.23" font-size="5.4" font-weight="bold" text-anchor="middle" fill="#444" stroke="#444" stroke-width="0.18">-</text>
<text x="280.3" y="614.69" font-size="5" font-weight="bold" text-anchor="middle" fill="#111" stroke="#111" stroke-width="0.18">+</text>
<text x="280.3" y="622.23" font-size="5.4" font-weight="bold" text-anchor="middle" fill="#444" stroke="#444" stroke-width="0.18">-</text>
<text x="280.3" y="628.79" font-size="5" font-weight="bold" text-anchor="middle" fill="#111" stroke="#111" stroke-width="0.18">+</text>
<text x="40.8" y="653.39" font-size="13.4" font-weight="bold" text-anchor="start" fill="#111" stroke="#111" stroke-width="0.4">G</text>
<text x="111.8" y="647.2" font-size="10.1" font-weight="bold" text-anchor="middle" fill="#000" stroke="#000" stroke-width="0.3">CFSE</text>
<rect x="90" y="652.5" width="34.3" height="1" fill="url(#gh)"/>
<path d="M120.8 650.7 L126.3 653 L120.8 655.3 L122.3 653Z" stroke="none" fill="#000" stroke-width="1"/>
<rect x="61.4" y="658.5" width="85.6" height="70.1" stroke="#b5b5b5" fill="none" stroke-width="1.5"/>
<rect x="150.8" y="658.5" width="85.6" height="70.1" stroke="#b5b5b5" fill="none" stroke-width="1.5"/>
<rect x="240.6" y="658.5" width="85.6" height="70.1" stroke="#b5b5b5" fill="none" stroke-width="1.5"/>
<text x="52.6" y="739.53" font-size="6.5" font-weight="bold" fill="#111" stroke="#111" stroke-width="0.18" textLength="12.14" lengthAdjust="spacingAndGlyphs">OVA</text>
<text x="52.6" y="746.53" font-size="6.5" font-weight="bold" fill="#111" stroke="#111" stroke-width="0.18" textLength="11.28" lengthAdjust="spacingAndGlyphs">LPS</text>
<text x="52.6" y="753.43" font-size="6.5" font-weight="bold" fill="#111" stroke="#111" stroke-width="0.18" textLength="16.76" lengthAdjust="spacingAndGlyphs">TriMix</text>
<text x="101.5" y="738.63" font-size="5.4" font-weight="bold" text-anchor="middle" fill="#444" stroke="#444" stroke-width="0.18">-</text>
<text x="101.5" y="745.63" font-size="5.4" font-weight="bold" text-anchor="middle" fill="#444" stroke="#444" stroke-width="0.18">-</text>
<text x="101.5" y="752.53" font-size="5.4" font-weight="bold" text-anchor="middle" fill="#444" stroke="#444" stroke-width="0.18">-</text>
<text x="196" y="738.19" font-size="5" font-weight="bold" text-anchor="middle" fill="#111" stroke="#111" stroke-width="0.18">+</text>
<text x="196" y="745.19" font-size="5" font-weight="bold" text-anchor="middle" fill="#111" stroke="#111" stroke-width="0.18">+</text>
<text x="196" y="752.53" font-size="5.4" font-weight="bold" text-anchor="middle" fill="#444" stroke="#444" stroke-width="0.18">-</text>
<text x="280.3" y="738.19" font-size="5" font-weight="bold" text-anchor="middle" fill="#111" stroke="#111" stroke-width="0.18">+</text>
<text x="280.3" y="745.63" font-size="5.4" font-weight="bold" text-anchor="middle" fill="#444" stroke="#444" stroke-width="0.18">-</text>
<text x="280.3" y="752.09" font-size="5" font-weight="bold" text-anchor="middle" fill="#111" stroke="#111" stroke-width="0.18">+</text>
<path d="M111.8 347.3h0m3.3-1.1h0m-2-11.8h0m-8.9-6.3h0m1.2 0.3h0m9.4 2h0m-1.1 7.6h0m0.3 13.1h0m-6.1-17.2h0m-1.7 16.6h0m-0.3-6.6h0m-1.3 5.2h0m2.4-12.3h0m2.3 9.8h0m3.2-17.4h0m-1.7 18.5h0m-6.2-16.1h0m-1.6 1h0m7.8 18.1h0m-9.2-16.5h0m-0.5 9.5h0m7.4-15.1h0m-1 19.8h0m8.3-20.2h0m-4.5 12.2h0m-2.5-13.9h0m-0.3 14.2h0m-3.5 8.4h0m-3.6-20.2h0m3.1 4.8h0m6.5 12.5h0m-7-4.3h0m3.1-7.8h0m6.5 4.8h0m-10.2 10.1h0m2.1-14.6h0m9.7 10.2h0m-6.7-2h0m5.4 3.1h0m-2.1-10h0m0.3 10.7h0m-10.4-2.6h0m7.9-7.3h0m-1.1-9.3h0m-2.3 17.2h0m4.3-12.5h0m-9.4 13.7h0m5.7-10.5h0m-1.4 4.2h0m-2.5 9.4h0m11.5-10.3h0m-6.9-4.6h0m2.4-6.1h0m0.9 4.5h0m1.1 1.2h0m0.4-1.9h0m-9.2-4.7h0m4 10.7h0m-1.7-6.3h0m2.5 14.7h0m-4.8 5.1h0m0.9-10h0m7.6-1.5h0m-6.5-11.5h0m10.8 0.3h0m-4.3 20.6h0m-8.8-9.8h0m11.6 8.7h0m0.1-5.4h0m-5 6.9h0m-6.5-1.9h0m12.4-7.4h0m-4.9-4h0m-6.9 9.3h0m12.3-16.3h0m-4.8 3.9h0m-2.2 15.2h0m-0.6-9.2h0m-0.3-0.6h0m-4.1 14.2h0m-3.5-18.1h0m14.7-6.8h0m-6.6 9h0m0.6-7.3h0m-3.2-1.6h0m6.2 12.6h0m-5.8-0.1h0m-6.1 2h0m2.4-7.4h0m10 10.2h0m-5.4-2.8h0m1.8 4.9h0m6.9-6.7h0m-10.4-9.9h0m4.9 11.1h0m0.6-3.2h0m-4.3-7.7h0m2 12.1h0m4.8 3.8h0m1.8-16.8h0m-12.7 9.4h0m13.1 6.7h0m-1.8-14.1h0m1.5 3.4h0m-12.1 5.9h0m4.7 3.2h0m5.3-3.1h0m-13-13.9h0m12.3 20.8h0m2.1 1.8h0m-4.9-20.3h0m3.6 3h0m-9.9-2.1h0m-1 17h0m4 2h0m-3.1-22.4h0m4 8.5h0m2.5 3.6h0m-4.3 11h0m-0.1-23.1h0m2.2 11h0m1.4 8.6h0m-0.5-9h0m6.2-8.6h0m-2.8 7.1h0m-0.5 16.1h0m-4.4-6h0m7.7-16.7h0m-7.3 18h0m8.6-13.7h0m-14.7 11.8h0m7.4 2.5h0m-4.2-10.7h0m9.3 6.3h0m-3.1-4.8h0m1-8.2h0m0.1-0.6h0m-6.1-1.9h0m0.4 4.3h0m-2.7-4.8h0m-0.6 11.5h0m0.5-3.8h0m12.1 6.1h0m-2-8.6h0m-10.9-6h0m8.6 7.8h0m-1.4 10.8h0m0.7-14h0m0.1 5.9h0m-5.6 8.8h0m3.1 2.6h0m2.6 1.1h0m0-15.3h0m-6.8 10.5h0m-2.9-12.3h0m6.2-2.6h0m7.5 7.8h0m-0.8 3.8h0m-1.9 8.3h0m-10.2-20.6h0m13.5 15.7h0m-1.8-6.8h0m0.8-8h0m-4.9 22.3h0m6.7-7.5h0m-15-15.5h0m1.5 19.5h0m-1.1-19.5h0m3.4-0.9h0m0.5 5.5h0m-1.6 15.9h0m5.6-23.8h0m-8.3 23.9h0m9.4-9.1h0m-6-12.8h0m7.6 12.3h0m-11.3-2.3h0m5.1 1.4h0m10.5 7.4h0m-8.2-2.7h0m3.4-14.5h0m-0.2 16.7h0m-7.6-9h0m6.1 8.7h0m-8.7 2.9h0m14.3-12h0m-13.6 12.8h0m4.6 0.8h0m-2.3-15.1h0m-2.5 14.7h0m10.1-14.5h0m1.2 0.7h0m-7.3 10.2h0m9.2-9.1h0m-1.3 0.7h0m-10.4-2.4h0m10 1.2h0m1.5-6.5h0m-10.9-4h0m5.9 19.5h0m1.7-5.5h0m-1.3 2.9h0m-9 2.7h0m10.8-14.7h0m-0.7 1.1h0m3.3 0.5h0m0.6 1.1h0m-9.4 12.1h0m7-11.2h0m2.2-0.9h0m-0.9 8.3h0m-11-12.1h0m-3.1-2.1h0m11.3 15.9h0m-7.9 1.9h0m5.8-12.7h0m7.8 8.7h0m-10.5-14.8h0m-2 8.9h0m3.8 5.5h0m1.8-9.8h0m-8.5 2.4h0m4.8 7h0m-3.4-0.5h0m8.6-10.8h0m2.3 14.5h0m-6.1-16.5h0m-1.5 23.4h0m2.6-20.2h0m-4.2 0.7h0m-0.1-0.2h0m3.2 1.7h0m-6.5 7.8h0m8.5 11h0m-4.5-25.7h0m-3.8 12.9h0m12.1 2.3h0m-9.6 2.7h0m-0.3-9.6h0m-0.6-1.3h0m12.4-6.9h0m-10.6 12.4h0m1.3-11.5h0m7.9 3.4h0m-3.4 3.9h0m-7.8-7.8h0m5-0.4h0m7.1 23.3h0m-8.7-12.7h0m6.7-6.7h0m-9.9 14.5h0m9.2-18.6h0m0.2 4.8h0m-1.5 18h0m-4.5-7h0m-4.8-15.3h0m7.8 6.4h0m3.2-7.1h0m-9.6 4.5h0m1.3-4.3h0m5.4 3h0m2.6 12.6h0m2.4-13.4h0m-13.3 2h0m1.8 18.6h0m10.7-14h0m-2.6 0h0m1.2-6.5h0m4.2 14.9h0m-1.4-3.3h0m-1.9 1.2h0m-6.6-12.7h0m3.5 4.2h0m-6.5 8.3h0m7.9 9.6h0m1.7-4h0m-0.9-5.6h0m-4.3-2.2h0m-0.3 9.1h0m-6.4-20.9h0m13.4 1.3h0m-5.8 16.8h0m-2.7 1.4h0m3-0.9h0m3.7-7.2h0m-6.7-9.3h0m8.5-2.1h0m1.3 21.7h0m-9.8 2.5h0m-4.5-20.2h0m11.7 16.9h0m-9.3-14.2h0m7.6 5.6h0m3.3-13.4h0m-0.2 11.5h0m-11.6-7h0m-1.8 14.5h0m0.9 2.9h0m0.7 0.9h0m7-14.8h0" stroke="#555" stroke-width="0.72" stroke-linecap="round" fill="none"/>
<path d="M117.6 325.08 L119.4 322.92 Q121 321 123.11 319.66 L124.39 318.84 Q126.5 317.5 128 318.75 L128 318.75 Q129.5 320 129.57 322.5 L129.73 327.5 Q129.8 330 129.48 332.48 L128.82 337.52 Q128.5 340 127.66 342.35 L126.84 344.65 Q126 347 124.03 348.53 L123.47 348.97 Q121.5 350.5 119.5 350 L119.5 350 Q117.5 349.5 117.11 347.03 L116.39 342.47 Q116 340 116 337.5 L116 329.5 Q116 327 117.6 325.08Z" fill="#0a0a0a" filter="url(#blur1)"/>
<path d="M128.1 327.3h0m2.7 1.8h0m-15.9 4.9h0m1.1 6.4h0m-0.3 0.2h0m9.9-24h0m-9.7 34.6h0m14-21.5h0m-1-3.9h0m-10.7 16.6h0m10.4-2.7h0m-0.9 3.4h0m-12.3-16.3h0m11.8 14.6h0m-11.3 0h0m1.1 1.3h0m-2-1.1h0m15.6-20.5h0m-6.5-1.8h0m5.5 5.5h0m-5 24.1h0m6-24.2h0m-16.2 8.7h0m1.9 12.1h0m9.6-0.6h0m-0.7 2.5h0m-7.4-18.8h0m1-6.2h0m11.4 2.8h0m0.9 0h0m-14.5 22.8h0m5.4 2.1h0m-5.6-6.9h0m-0.9-9.5h0m9.1-13.4h0m3.5 22.9h0m-5.4-22.8h0m-4.6 12.2h0m7.4-13.7h0m5.5 10.6h0m-9.3 20.8h0m-6.1-16.8h0m8.5 13.2h0m-8-0.3h0m13.6-24.8h0m-13.8 4.2h0m2 21.3h0m5-24.9h0m-7.5 7.8h0m2.3 18.7h0m11.1-28.6h0m-8.3 0.7h0m1.9 28.1h0m0.3 2.8h0m-7.3-25.2h0m2 19.7h0m11-22h0m0.2 12.8h0m-13.1-5.6h0m5.7-11.6h0m-4.5 22.2h0m0-0.7h0m12.8-22.4h0m-12.8 7h0m2.8 25.2h0m1.9-1.4h0m0.3-29.5h0m6.8 13.8h0m-1.9 12h0m-9.7-9.7h0m9.3 11.7h0m-2.8-30.1h0m-4.5 30.5h0m4.2-30.4h0m3.1 28.9h0m-11-18.8h0m1.4 4h0m2.1 13.3h0m2.3 6.9h0m3.5-32.2h0m4.1 18.4h0m1-6.4h0m1-9h0m-2.7 17.8h0m-10.3 2.6h0m10.7-3.1h0m-10.6 3.4h0m5.4-23.5h0m3.9-5.5h0m-9.2 32.6h0m1.1-23.8h0m8.7 17.3h0m-10.4-2.2h0m0.5 10.9h0m11.4-10.3h0m-10.5 8.1h0m11-7.3h0m-0.1-13.3h0m-4.4 20.9h0m-8.8-19h0m12.1 2.5h0m-13.8 3.4h0m3.3-0.6h0m0.3 14.3h0m11.4-28.4h0m-10.6 2.4h0m5 24.3h0m-6.8 0.8h0m9.8-3.7h0m-5.7 8.4h0m2.9-33.5h0m-6.6 30.7h0m-0.1-8.1h0m-0.2 8.5h0m2.6-0.5h0m-3.6-24.6h0m12.5-5.2h0m-12.9 26.1h0m12.7-5.5h0m0.3-8.9h0m-12.3 4.7h0m0.6 3h0m11.6-3.4h0m-2.3-15h0m2.6 1.9h0m-7.3 27.3h0m-3.1-25.7h0m-3 8.1h0m0.6 13.2h0m-2-17.6h0m14.9-1.6h0m-14.3 2.3h0m4.3 20.7h0m-4-17.9h0m2.3-5.7h0m7.8-7.2h0m-7.9 30.3h0m-0.8-3.4h0m-1.5-14.2h0m13.5 6.4h0m-10.3-11.8h0m1.9 24h0m-3.1-21.8h0m-0.7-0.1h0m11.5 7.5h0m-9.2-14.1h0m4.5 0.3h0m5.7 9.8h0m-13.5-3h0m1.2 1.9h0m11.9-8.1h0m0.2 18.1h0m-0.6 1.3h0m2.1-16.5h0m-7.1-5.5h0m5.7 16.6h0m-10.6 11.4h0m1 2.1h0m-4.1-6.8h0m11.3 2.4h0m-9.8-16.4h0m11.6 13h0m-2.5-24h0m-10 16.5h0m1.4 11.5h0m6.3 2.6h0m-6.8-1.1h0m0.2-13.5h0m8.5 15.9h0m2.4-30.7h0m1.9 13.3h0m-8.6 17.3h0m8.4-10.1h0m-6.7-19.3h0m-5.7 24.8h0m11.1-8.8h0m0.6-8.3h0m-12.8 4.5h0m8.5-13.7h0m-8.5 20.7h0m7.7 10.4h0m4.3-7.3h0m-11.5-4.2h0m10.6 3.9h0m-12.2-13.7h0m1.7 7.2h0m13.2-18h0m-6.9 31.3h0m-5.1-20.6h0m12.7 13.5h0m-2.5 0.9h0m-12.8 5h0m1.9-4.9h0m5-22.6h0m7.8 14.5h0m-11.4-10.6h0m-3.7 8h0m1.2 6.3h0m12.1 2.3h0m-11.9-6.7h0m13-12.4h0m2.2 3.6h0m-14.8 4.1h0m1.6 15.3h0m0.1-18.2h0m-0.5 7.3h0m9.4-14.2h0m0.6 23.7h0m-12.1-5h0m3.1 12.3h0m-3.9-15h0m0.6-0.6h0m1-3.2h0m13.9-12.7h0m-5.5-0.8h0m5.2 2.4h0m-13.7 8h0m9.4 19.4h0m-4.9-26.5h0m3 29.3h0m-3.3-0.6h0m4.8-3.5h0m-7.9 1.2h0m12-9h0m0.8-10h0m-12 1.7h0m-1.2 3h0m0.2-10.2h0m0 22.6h0m-2.1-11.9h0m13.4-11.9h0m-4.4-5.4h0m-7.1 11.3h0m1.8 24.5h0m1.5-1.6h0m10-28.7h0m-1.7 1.4h0m-1.7 21.3h0m4-9.2h0m-9.5-15.7h0m-4.2 7h0m-0.1 14.4h0m12.2-11.9h0m-6.4 20h0m2.8-1.4h0m-9.2-20.6h0m6.6-9h0m5 24.5h0m-0.7-21.1h0m1.2 14h0m1.3-7.7h0m-14 17.6h0m9.2-25.3h0m-1.5 30h0m0.9-31.3h0m-8.8 22.5h0m12.2 2h0m-10.1-16.1h0m-2.3 18.4h0m11.5-26.6h0" stroke="#111" stroke-width="0.7" stroke-linecap="round" fill="none"/>
<path d="M99.69 319.53 L107.71 307.27 Q108.8 305.6 110.65 304.85 L112.35 304.15 Q114.2 303.4 116.19 303.63 L120.71 304.17 Q122.7 304.4 123.75 306.1 L124.25 306.9 Q125.3 308.6 124.24 310.29 L116.06 323.31 Q115 325 113.04 325.41 L108.46 326.39 Q106.5 326.8 104.53 326.48 L102.37 326.12 Q100.4 325.8 99.67 323.94 L99.33 323.06 Q98.6 321.2 99.69 319.53Z" fill="none" stroke="#666" stroke-width="1"/>
<path d="M196.6 347h0m-0.3 4.3h0m2.4-12.8h0m5.5-3.7h0m-3.8 9.9h0m-6.6 6.6h0m1.6-9.3h0m6.9-16.1h0m-6.8 1.9h0m1 10.3h0m5.4 7.9h0m-2.8 2.6h0m-1.7-12.1h0m4.5 2.9h0m0.5-0.9h0m-9.4-10.2h0m3.8 11.4h0m8.7-2.2h0m-12.8 9.5h0m4.4-16.1h0m-1.7 16.9h0m8.6-14.5h0m0.8 7h0m-11.2 3.6h0m12.5-15.5h0m-3.3 21.6h0m-6.6 0.2h0m8.4-7.4h0m-10.1 0.6h0m5.8 4.7h0m-0.1-17.2h0m6-2.5h0m0.3 18h0m-6.1-13.8h0m-6-5.3h0m5.5 0.3h0m-1.9 14.3h0m5 4.1h0m-4.9 1.5h0m5.7 2.1h0m-9.3-0.9h0m10.8 0.1h0m-2.2-3.9h0m-2.3-9.6h0m2.8-4h0m-5.2 17.1h0m-3.1-12.1h0m4 1.5h0m-6.3 6.6h0m0.3-2.1h0m6.2 0.5h0m5.5-0.5h0m-9.8-3h0m4.7 7h0m6.2-14.3h0m0.3 16.6h0m-3.3-0.4h0m-2.3-3.5h0m-0.1-15.3h0m0-1.4h0m-1 21.6h0m-2 1.1h0m-2.8-18.1h0m-0.1 9h0m3.4-15.2h0m5.7 9.3h0m-2.3 8.2h0m-6.3-9.2h0m10 11.8h0m-11.3 3.2h0m12.8-22.1h0m-3.8 16.2h0m-2.4-9.7h0m-2.4-3.5h0m6.4 3.7h0m-3.9 11.8h0m-2-19.2h0m-5.9 14.1h0m10.8-6.4h0m-10.4 12h0m11.1-7.1h0m-3 1.6h0m2-8.7h0m0.9 12.8h0m-10.1-14.7h0m5.1 16.4h0m-2.9-13.9h0m1.5-0.4h0m0.7-2.6h0m8.7 11.2h0m-5.9 3.7h0m-7.7-16.5h0m10.1 11.5h0m-2.8-1h0m5-10.9h0m-13.3 11.2h0m12.4-6.6h0m1.5-2h0m-6.3-2.9h0m-5.8 5.9h0m6.3 7.5h0m-7.1-5.1h0m1.9 11h0m6.4-15.5h0m1 4.9h0m-4.9 13.5h0m-1.9 0.8h0m10-2h0m-13.3-12.4h0m3.8 8.5h0m0.9 3.1h0m4.2-17.1h0m-3.3 19.6h0m-4.8-22h0m8 14.1h0m1.9-9.4h0m-0.5-2.1h0m-2.8-2.6h0m-2.9 22.7h0m-4.1-21.9h0m7.9 20.1h0m1.7-19.6h0m-3.7 4.4h0m-2.9 17.3h0m9.3-24.7h0m-1.1 22.6h0m2.8-16.2h0m-11.5 12.1h0m10.5-12.4h0m-7.8 6.5h0m5.4-10.8h0m3.6 7.2h0m-6.5-9.9h0m0.5 18h0m-8.7-2.2h0m10.3-8.7h0m-6.4-7.1h0m1.2 24.4h0m0.8-21h0m5.3-2.6h0m0.1 9.8h0m-9.6-1.1h0m2.6 3.7h0m9.5-5.3h0m-11.1-0.8h0m12.3 12.8h0m-8.2-12.5h0m-1.6 1.1h0m3 4.1h0m-0.6-5.1h0m-1 11.2h0m-0.7-16.5h0m4.3 6.5h0m-5.9 2.5h0m-2-5.7h0m5.3 15.9h0m-5.6-12.2h0m5.1 2.5h0m0.6 1h0m3.4 9.1h0m-9.8-16.5h0m4.7 16.2h0m0-16h0m6.8-1.8h0m-1.2 16.3h0m-10.9-12.4h0m5.5-1.4h0m5.2-4.4h0m-4.3 14h0m3.6 7.9h0m5.1-2.3h0m-6.6-7.2h0m-1.2-3.1h0m-1.6 5.7h0m-1.9 0.5h0m3.8-0.2h0m7.5-0.6h0m-6.7-12.7h0m-4.6 2h0m1.5 18.7h0m3.1-9.6h0m-3.5-11h0m-3.4-0.1h0m8.4 6.6h0m0.2 0.5h0m-8.5-8.7h0m13.1 13.7h0m-2.7 4.1h0m-8.9-18.6h0m4.3 5.8h0m1.1-0.6h0m-4.2 6.9h0m-3.3 1.3h0m10.9-3.8h0m-10.4 11.6h0m5.5-13h0m-2.1-1.4h0m8.3 12h0m-6.6 0.4h0m-2.2 1.4h0m0.8-16.8h0m5.1 6.6h0m-7.1 12.9h0m7.9-8.8h0m-1.7-0.2h0m3.4-7.7h0m-6.3 17.1h0m-4.2-20h0m6.4 8.5h0m2.6 3.3h0m-8.6 2.8h0m-0.3-9.5h0m10-2.9h0m-12.2 6.3h0m0.9-7.5h0m11.1-3.7h0m-7.8 18.7h0m4.6 0h0m0.5-6.5h0m-3.9-4.4h0m4.4 5.9h0m-4.1 9.1h0m1-10.3h0m-2 4.9h0m3.4 0.4h0m-5.5-8.4h0m-0.1-7.2h0m10.3 13.1h0m-8.3 4.4h0m-3.5 1.8h0m7.7-20.2h0m-1-1.2h0m-8.3 13.5h0m3.8 5.2h0m4.8-19.3h0m-5.4 13.5h0m3.5-7h0m7.4-6.9h0m-13.8 17.9h0m2.7-12.9h0m10.4 3.8h0m-5.7-7.1h0m-5.7 5.6h0m6.4-5.3h0m2.9 2.8h0m-2.6 8.6h0m-8.8-7.2h0m0.8 9.8h0m4.9 4.8h0m-4.9-22h0m9.4 24.1h0m-4-19.1h0m-5.6 3.3h0m13.6 5.7h0m-8.5 1.6h0m7-7h0m-3.7 2.4h0m-0.1 4.7h0m-2.9-4.3h0m4.8-4.4h0" stroke="#666" stroke-width="0.72" stroke-linecap="round" fill="none"/>
<path d="M208.3 315.1h0m-1.6 4.2h0m-3 3.1h0m0.4 0.9h0m5.7-5.8h0m-4.2 2.5h0m8.2-6.9h0m-9.5 9h0m0.8-2.4h0m8.9-7.1h0m-4.9 1.8h0m0.1 0.2h0m-6.1 8.2h0m5.5-6.8h0m-2.5 2.7h0m-0.5-3h0m6.7-1.7h0m-7.5 5.9h0m-3.1 2.1h0m3.6-4.7h0m-0.1 1.7h0m-2-0.6h0m1.2 1.4h0m8.2-4.7h0m-5.6 2.4h0m-6.4 4.8h0m0.6-0.3h0m3.4-1.3h0m5.4-3h0m-7 1.5h0m4.8 2.9h0m-1-3.9h0m1.4 1.4h0m-3.7 0.6h0m-0.7-2.8h0m-0.4 3.8h0m5-5h0m1 4.3h0m-3.5-7.7h0m0.3 9.1h0m-1.7-4.1h0m-0.2-3.5h0m-1.2 8.5h0m4.8-8.6h0m1.3 1.2h0" stroke="#888" stroke-width="0.66" stroke-linecap="round" fill="none"/>
<path d="M209.66 328.13 L210.34 327.37 Q212 325.5 213.9 324 L213.9 324 Q215.8 322.5 216.9 323 L216.9 323 Q218 323.5 218.08 326 L218.22 330.5 Q218.3 333 218.02 335.48 L217.78 337.52 Q217.5 340 216.21 342.14 L216.09 342.36 Q214.8 344.5 212.8 344.75 L212.8 344.75 Q210.8 345 209.5 343 L209.5 343 Q208.2 341 208.15 338.5 L208.05 332.5 Q208 330 209.66 328.13Z" fill="#0a0a0a" filter="url(#blur1)"/>
<path d="M216.5 336.5h0m-7.5 1.9h0m4.4 6.1h0m4.4-3.6h0m-0.8-14.2h0m-10 10.8h0m1.9-8.7h0m-1.1 9.8h0m3.6-12.4h0m-4.2 11.2h0m8.5-14.9h0m3.1 3.9h0m-4.3-2.9h0m-3.2 6.4h0m0-3.7h0m6.7 10.2h0m-9.2 5.8h0m9.3-18.4h0m-10.4 15.7h0m10.1 2.5h0m0.9-3.2h0m-0.5-11.3h0m-1.7-3h0m-5.2 2.2h0m2.1 17h0m-6.3-8.2h0m11.7-3h0m-12.2-2.2h0m2.2 5.8h0m-0.3-0.5h0m-0.9-5.5h0m-0.2 9.6h0m10.6-6.7h0m-9.3 4.1h0m-0.9 0.2h0m10.7 0.7h0m-4.8 5.6h0m1.1-0.4h0m3.8-10.7h0m-10.6 6.6h0m1-11.3h0m-0.7 14.8h0m10.1-16.8h0m-0.2 4.8h0m-0.5 5.8h0m-9.2 0.3h0m0-3h0m8.7-9.7h0m2.5 6.8h0m-7.9 14.7h0m3-21.9h0m3.7 1.6h0m-9.1 1.1h0m8.2 12.4h0m0.6-0.5h0m-12-8.6h0m12.4-4.7h0m-10.2 16.5h0m10.1-15.7h0m-8.4 16.3h0m-2.7-9.4h0m8.9 12h0m-7.6-14.1h0m4 14.4h0m-4.2-1.8h0m0.5-2h0m10.5-8h0m-10.4 9.2h0m8.5-0.7h0m-2.1 0.7h0m-5.3-12.6h0m-1.7 0.6h0m9.9 7.1h0m0.4-7.1h0m-9.1-3h0m6.7 15.2h0m-7.7 0.2h0m1.6-16.6h0m8 13.4h0m-10-7.4h0m9.6-3.9h0m-10.7 4.9h0m0.8-0.4h0m5.3-8.1h0m-6.5 10.3h0m3.3-7.5h0m2.1 16.9h0m6.7-12.3h0m-2.6 4.2h0m-8.6 2.8h0m0.3-3.3h0m10.5 0.4h0m-1.1 3.8h0m1.1-11.7h0m-10.3 11.9h0m10.7-9.4h0m-10.5 10.8h0m-0.6-3.2h0m1.4 1h0m5.1-15.3h0m2.3 17.9h0m1.5-17.8h0m-8.9 4.9h0m8.3-4h0m-6 0.9h0m2.8-3h0m3.1 15.7h0m-8.2-1.6h0m-1 6.2h0m0.9-14.5h0m3.2-1.3h0m6.5 3h0m-8.8-2.3h0m-1.9 3.3h0m-0.2 6.6h0m0.3-9.3h0m1.9 13.9h0m2.4-17.3h0m6.5 0.9h0m-5.4 19.4h0m2.9-22.6h0m1 15.4h0m-4.6-14.8h0m3.8-0.1h0m-6.8 18.1h0m7.8-1.2h0m-5.4-13.9h0m-0.2-0.6h0m-3.9 12.1h0m3-11.6h0m5.7 15.5h0m-9.5-11h0m2 14.5h0m-2.1-14.7h0m11.2-7.6h0m-11.4 14.7h0m1.1-3h0m1.2-6.6h0m3.6 17.1h0m0.6-0.8h0m2-0.6h0m-7.1-3h0m-0.7-2.4h0m9.7 3.2h0m-3.9-16.2h0m-3.9 1.3h0m0.7 0.4h0m7-4.2h0m0.4 1.4h0m0.6 8.2h0m-10 1.5h0m7.1 9h0m-7.1-6.4h0m0.6-5.4h0m7.3-8.5h0m1 19.4h0m-9.1-4.4h0m9.3 0.2h0m-9.1-7.4h0m8.6 2.1h0m-7.9 1.5h0m0.4 11.2h0m8.1-16.8h0m-0.5 9.3h0m-4.1 7.1h0m3-22.4h0m-6.1 5h0m8 5.5h0m-2.2 10.2h0m2-19.5h0m-3.5 0.5h0m3.6 14.8h0m-7.2-11.2h0m1.6-2.8h0m0.3 2.4h0m-3.4 2.7h0m8.4 2h0m-3.7-8.3h0m2.1-1.8h0m-4.1 2.2h0m-2.5 19.7h0m4.5 1.7h0m-0.1-22h0m2.8 17.9h0m-9.3-9.2h0m8.9-9.4h0m-6 21.3h0m4.3-21h0m-3.9 3.5h0m-1.8 9.7h0m6.3-14.4h0m-7.5 7.8h0m11.7 4.1h0m-3.3-11.4h0m0.4 18.7h0m2-3h0m-2.1 5.9h0m0.9-17.3h0m-4.2 18h0m-0.3 0.2h0" stroke="#111" stroke-width="0.7" stroke-linecap="round" fill="none"/>
<path d="M193 320.93 L201.6 307.77 Q202.7 306.1 204.62 305.56 L205.38 305.34 Q207.3 304.8 209.3 304.91 L214.5 305.19 Q216.5 305.3 217.58 306.98 L218.12 307.82 Q219.2 309.5 218.08 311.16 L209.92 323.24 Q208.8 324.9 206.82 325.21 L198.48 326.49 Q196.5 326.8 194.71 325.91 L194.49 325.79 Q192.7 324.9 192.3 323.75 L192.3 323.75 Q191.9 322.6 193 320.93Z" fill="none" stroke="#666" stroke-width="1"/>
<path d="M284.7 336.3h0m1.1-0.4h0m-2.6 2.2h0m-0.5-5h0m-2.8-1.3h0m3 11.8h0m-2.7-1h0m5.9-9.6h0m4.7 6.9h0m-0.8-5.3h0m-0.5 12.4h0m-2.3-11.3h0m-3.5 7h0m-3.2 7.5h0m1.9-16.3h0m9.6 4.7h0m-4.2 4.1h0m1.3-9.1h0m2.1 9.7h0m0.8 1.6h0m-9.2-3h0m8.2 4.8h0m-1.8-8h0m-4.2 10.4h0m-1.2-7.1h0m5 1h0m5.4-1.5h0m-11-6.5h0m-0.9-5.5h0m1.2 14h0m-0.5 3.7h0m-0.5-3.4h0m8.2 3.7h0m-5.4-12.9h0m-0.6 3h0m4.6-2h0m-8-2.4h0m10.5-0.7h0m-6.3 10.9h0m1.1-2.2h0m-1.6 5.2h0m3 5.3h0m-2.9-19.8h0m-0.5 18.5h0m-2.8-4.6h0m12.1-4.3h0m-10.3 9.5h0m0.6-11.2h0m1.9-11.2h0m-4.1 2.5h0m0.7 4.6h0m3.4 9.2h0m2.6-3.3h0m0.2 1.9h0m1.1-10.2h0m1 6.5h0m-6.9 3.2h0m-0.7-5.3h0m4.9-4.2h0m-1.8 2.5h0m5.1 9.1h0m-3.4-12.7h0m-2.7 17.5h0m-2.2-21.2h0m9.4 5.5h0m-8.8 3h0m8.2 8.8h0m0.4-5.7h0m1 4.2h0m-11.7 5.4h0m0.5-13.8h0m0.2-5h0m1.7 6.5h0m8 3.2h0m-2-10.1h0m-7.8-2.7h0m-1 16.5h0m7.9 6.1h0m0-12.6h0m-6.6 9.8h0m0.8 3.1h0m-1.8-15.5h0m4.6 9h0m1.8-13.9h0m-5.2 7.8h0m5.8-0.4h0m2 2h0m2.2 6.3h0m-9.5-10.1h0m0.5 6.9h0m2.8 0h0m-1.5-2.9h0m6.2 2.5h0m-6.6-3.7h0m0.4 3.5h0m3.1-3.5h0m-0.3 10.4h0m-2.8-19.8h0m4.9 15.9h0m-7.7-18.7h0m10 18.3h0m-8.4-9.4h0m0.6 3.3h0m3.7 1.9h0m3.6 4.4h0m-5.9-5.9h0m0.7 3.2h0m-1.3-9.7h0m-3.1-4h0m1.6 14.4h0m9.7-13.9h0m-9.6 20h0m8.6-14.2h0m-1.7-0.4h0m-10.9 8.9h0m6.6-5.1h0m0 8.8h0m-0.1-13h0m7.4 0.9h0m-7.8 7.6h0m-4.8-13.1h0m1.3 20.5h0m8.6-9.7h0m-9.6 10.7h0m-0.6-19.4h0m1.2 13.6h0m4.8-16h0m-4.2 8.9h0m7.7 0.6h0m-5.6 1.8h0m4-1.7h0m1.1 5.2h0m-2-10h0m-1.4 11.5h0m0.6-2h0m5.4 2.3h0m1.1 3.7h0m-3.5-2.2h0m-4.7-15.6h0m-0.7 19.8h0m-1.1-10.2h0m7.7-7.3h0m-3.7 3h0m4 4.3h0m-3.9 3.3h0m5.4-8.9h0m-4.8 7.9h0m1.7 1.2h0m-2.6-3.2h0m-2.7-12.4h0m5.4 11.1h0m-8.4-4.9h0m11.8 8.3h0m0.4 0.4h0m-1.8-4.9h0m-4.1 5.3h0m-2.5-13.7h0m0.5 16.1h0m-0.2 4.3h0m-2.4-2.4h0m7.2-1.8h0m2-9.2h0m-5.5 11.1h0m5.3-8.7h0m-7.7-8.4h0m7.6 8.3h0m1.6 7.3h0m-4.6-3.9h0m4.2 3.8h0m-3.6 1.9h0m-3 1h0m-5.5-10.5h0m1 9.4h0m8.8-17h0m-7.7 4.2h0m6.7-4.8h0m-7.6 12h0m8.3 6h0m2.3-0.3h0m-3.9-20.2h0m-9.8 16.8h0m9.8-4h0m-1.9-8.9h0m4.7 15.2h0m-9.8-8.2h0m1.5-11.6h0m9.8 8.3h0m-2.1 5.8h0m1.6 4.9h0m-5.2-14.3h0m2.8 8.6h0m3.3-11.3h0m-4.4 19h0m-7.5-21.8h0m0.1 22.6h0m-0.3-5.2h0m-0.7-1.8h0m5.4-3h0m1.7-1.7h0m3.9-5.4h0m-5.8 1.1h0m-3.4-4.9h0m10.3 4.7h0m-0.2 9.3h0m0.4-2.4h0m-13.5 0.4h0m8.9-0.8h0m0 11.3h0m-1.2-3.9h0m-5.1-13.4h0m10.4 6.8h0m-5.7 9.5h0m-6.6-16.5h0m4.3 9.4h0m5.8-1.5h0m-8.1 1.7h0m7.5-2.7h0m-7.1 3.4h0m3.5-7.9h0m-2.5 13.1h0m-1.5-8.4h0m10.1-6.4h0m-8.1 7.4h0m6.7 1.8h0m1.7 6h0m-8.8-7.8h0m3.3-5.5h0m-5 0.9h0m10.4-3.5h0m-8.9 8.6h0m6.9 4.6h0m-9.9-6.1h0m3.2-9h0m-1.3-3.8h0m10.3 20.4h0m-4.3-15.6h0m1.3 11.1h0m-8.8 5.3h0m3.7-0.3h0m8.2-9.4h0m-4.8 9.2h0m1.7-12.2h0m-2.5 12.1h0m-3.9-5.8h0m9.7-14h0m-9.7 17.2h0m-2-15.7h0m-0.6-1.4h0m10.5 15.3h0m-0.9-13.6h0m-5.3 9.4h0m2.6-4.6h0m-1 12.5h0m-6.2-14.4h0m0.6 10.2h0m3.4 5.8h0m-3.9-21h0m1.5 15.9h0m3.1-15.3h0m4.2 15.9h0m-2.3 2h0m-5.2-15.7h0m9.3 15.7h0m0.2-10h0m-1.5-2.8h0m-0.4 15.9h0m-5.7-14.1h0m7.8-4.2h0m-3.1 2.3h0m-6 14.3h0m6-10.3h0m-1.3 0.3h0m-1.1 3.1h0m4.4 5.5h0m-2-2h0m-7.3 4.7h0m1.9-13.2h0m11.1 1.2h0m-7.6 12.2h0m2-13.6h0m-6.4 0.4h0m6 10.4h0m0.5-8.8h0m2 3.6h0m1.4-8.5h0m-5.1 9.8h0m-3.9-7.6h0m-1.9 11.1h0m3.6-8.8h0m1.9 10.5h0m7.1-8.4h0m-7.3 7.8h0m2.2-9.7h0m1.6 4.2h0m-11.1-8.2h0m4.9 6.1h0m4.4 2.6h0m-7.8-11.5h0m1.3 9.4h0m8.6 7.2h0m0-15.8h0m-9.3 6.2h0m-0.2 8.6h0m10.9-9.7h0m-7.9 1.8h0m6.4-1.2h0m0.1 10.8h0m-8.7-3.1h0m8.4-9.1h0m-3.8 11.4h0m-3.2-0.5h0m3-17.5h0m-4.2 18.6h0m0.2-5h0m7.7 6.8h0m1-16.3h0m-8.1 6.9h0m1.3-1.4h0m5.8-5h0m-4.5 11.2h0m0.2-8.8h0m7.5 5.7h0m-5.8 3h0m0.6-1.3h0m1.3-15.4h0m-8.6-1.5h0m4.8 18.8h0m6.3-3.3h0m-2.4-11.4h0m3.9-1.1h0m-9.3 7.6h0m2.6-7h0m-3.7 18.1h0m-1.2-16h0m-1.1 16.1h0m2.5-6h0m-0.3-2.4h0m3.2 1.6h0m-0.5 0.1h0m6-8.7h0m-1 4.3h0m-2.6-8.8h0m0.6-1.6h0m-2.9 22.2h0m-1.2-1.3h0m2.6-3.9h0m1.4-14.8h0m4 12.4h0m-0.8 1.5h0m-11.2-6h0m9.6-2.1h0m-8.4 9.6h0m9.9-7.2h0m-2.4-5.1h0m-7.5 4.3h0m3.9 2h0m-3.5-2.9h0m7.6 11.3h0m-0.1 0.7h0m1.1-3.7h0m-6 1.6h0m4-7.9h0m-5.5-5h0m10.6 12.6h0m-0.1-16.1h0m-13.8 11.9h0m8.6-0.5h0m2.8-12.4h0m-8.5 2.7h0m-1.8 11.8h0m8.9-6.3h0m-4.2 7.6h0m7.2-3.7h0m-13.5-3.3h0m10 4.6h0m-3.2 0.9h0m-1.3 2.8h0m1.9-7.1h0m-1.2 3.9h0m6.6-11h0m-3.3-1.1h0m-2.8 16.3h0m-4-14.9h0m4.6 6.1h0m6.2-8h0m-13.1 12.5h0m4.2-9.1h0m2.8 7.9h0m-1.2 6.5h0m-3.2-2.2h0m0.2-1h0m4-5.4h0m5 1.5h0m-1.4-10.1h0m-0.6-0.5h0m-0.9 13.5h0m-7.4-15.5h0m2.8 21.1h0m1.6-18.4h0m-1.7 14.1h0m2.1-7.7h0m0.1 3.8h0m-2.2 4.2h0m9 1.8h0m-0.2-1.7h0m-3.7-4.9h0m-6.7 0.7h0m4.5-4.9h0m0.6-1.1h0m3-2.1h0m-0.3 7h0m3.9 8.5h0m-5-0.1h0m-7.3-8.1h0m5.9-3.8h0m4.8 9.2h0m-11.3-5.3h0m0.3 6.8h0m-2 0.1h0m2.3-2.9h0" stroke="#333" stroke-width="0.76" stroke-linecap="round" fill="none"/>
<radialGradient id="gf1" gradientUnits="userSpaceOnUse" cx="296" cy="318" r="13"><stop offset="0" stop-color="#8f8f8f"/><stop offset="1" stop-color="#d8d8d8"/></radialGradient>
<path d="M281.26 323.71 L282.94 318.89 Q283.6 317 284.85 315.44 L286.75 313.06 Q288 311.5 289.8 310.63 L293 309.07 Q294.8 308.2 296.72 308.77 L300.88 310.03 Q302.8 310.6 303.5 312.2 L303.5 312.2 Q304.2 313.8 303.02 315.41 L297.18 323.39 Q296 325 294.13 325.71 L287.37 328.29 Q285.5 329 283.86 327.86 L282.24 326.74 Q280.6 325.6 281.26 323.71Z" fill="url(#gf1)"/>
<path d="M297.5 321.3h0m-6.1-0.4h0m1.2-5.2h0m-6.1 3.5h0m9.3-1.2h0m-6.6 1.4h0m5.8-1.7h0m0.7-1.5h0m-2 1.1h0m-0.5-0.3h0m-4.6 0.9h0m0.6 2.4h0m0.9 4.8h0m9.1-7.7h0m-8.9-0.1h0m0.5 3.2h0m0.8 1.4h0m3.3 2.7h0m-7.2-0.1h0m7.1-11.2h0m0.9 1.9h0m-5.2 1.2h0m-0.1 2.5h0m-4.7 7.6h0m9.6-5.6h0m-8.7 1h0m5-0.5h0m2.8 1.3h0m1.8-7.1h0m0.4 0.5h0m-2.9-1.6h0m4.5-0.4h0m-2.1 5.3h0m0.8-4.8h0m-7.3 9.2h0m-3.6-0.4h0m10.2-2.2h0m1.9-3.3h0m-5.5 3.6h0m-3.3 1.3h0m-1.9 3h0m0.5-8.5h0m3.4 5.7h0m3.2-8.1h0m-5.3 10.8h0m-1-0.4h0m0.2-7.5h0m6.4-0.2h0m-0.8 3h0m-10.7 2.7h0m10.4-0.8h0m-0.5-9.8h0m4.8 6.5h0m-5.3-6.9h0m7.1 2.7h0m-14.6 10.5h0m13.4-8.9h0m-12.3 8.3h0m5.2-10.8h0m-5.9 12.3h0m8-11.5h0m-5.5 5.3h0m3.6-2h0m-7.4 4.6h0m10.9-7h0m1.4-2.4h0m-2 3.2h0m-2.5 8.4h0m7.2-11.7h0m-11.8 11.8h0m10.7-5.1h0m0.3-0.7h0m-5.5-5.5h0m3.9 4.3h0m-1.6-6.1h0m-10.1 13.7h0m7.5-4.6h0m2.8-0.4h0m0.6-6.8h0m-2.9 9.1h0m-0.8-0.9h0m1.4-9.3h0m3.3 6.4h0m0.1-8.5h0m-6.7 5.4h0m-5.6 9.4h0m12.7-5.3h0m0.8-2.3h0m-2.7 0.2h0m-4-0.9h0m-1.2 1h0m0-2.4h0m6 8.5h0m-7.1-8.3h0m5.2-2.6h0m0.6 3.3h0m-5.1 8.8h0m5.4-8.6h0m-0.3-2.5h0m-0.5 7.6h0m3.7-6.7h0m-13.6 8.8h0m12.2-10.2h0m-5.5 2.9h0m4.2-0.4h0m-1.2-1.9h0m-4.5 5.7h0m7.2-8.1h0m-7.1 9.1h0m2.7-7.4h0m-9 10.8h0m5.6-1.2h0m2.6-1.8h0m4.1-0.9h0m3.3-2.5h0m-13.8 8.3h0m6.9-9.8h0m-3.2-2.5h0m5.4 8.5h0m5.1-5.3h0" stroke="#777" stroke-width="0.66" stroke-linecap="round" fill="none"/>
<path d="M294.05 328.96 L295.05 327.54 Q296.5 325.5 298.5 324.15 L298.5 324.15 Q300.5 322.8 302.65 322.4 L302.65 322.4 Q304.8 322 305.02 324.49 L305.28 327.51 Q305.5 330 305.33 332.49 L304.97 337.51 Q304.8 340 303.96 342.35 L303.14 344.65 Q302.3 347 299.93 347.79 L299.87 347.81 Q297.5 348.6 295.34 347.35 L295.16 347.25 Q293 346 292.81 343.51 L292.59 340.49 Q292.4 338 292.47 335.5 L292.53 333.5 Q292.6 331 294.05 328.96Z" fill="#0a0a0a" filter="url(#blur1)"/>
<path d="M303.9 340.9h0m-2.1-18.1h0m-7.8 23.7h0m9.6-9.7h0m-7.6 10h0m10.8-14.3h0m-2.9 8.2h0m-10.3 5.4h0m-0.9-1h0m11-22.7h0m-4.7 26.3h0m-1.5-21.4h0m-4.5 9.1h0m1.8 9.6h0m-3.2-6.9h0m11.7-17.8h0m-6.6 5.5h0m8.1 17.6h0m-9.8 2.8h0m-3.1-15.4h0m0.9 12.2h0m11.1-7.6h0m1.1 4.4h0m-7.5-17.1h0m7.2-0.3h0m-13.5 5.3h0m2.1 3.5h0m-2.4 6.9h0m14-4h0m0-6.5h0m-8.8-2.8h0m8.8 0.8h0m0.3 0.8h0m-12.6 19h0m11.7-3.4h0m-12.8-8.2h0m0 2.5h0m14.2-15.8h0m-7 26.6h0m-6.1-12.9h0m11.9-9.4h0m0.6-3h0m0 17h0m0.2-8.4h0m-7.8-6.2h0m7.6 2.5h0m-2.3 19.7h0m-10.7-4.2h0m13.9-14.4h0m-13.3 14h0m0.4-13.8h0m5.7 19.2h0m-6.6-7.5h0m-2.1-10.2h0m1.7 11.9h0m1.7 3.4h0m11.9-13.5h0m-12.3 7.4h0m11.3-5.8h0m-10-4.3h0m-1.3 4.4h0m0.5 7.4h0m0.4-10.6h0m5.2-7.9h0m5.2 11h0m0.3-2.7h0m-13.3 0.3h0m3.9-5.7h0m5.2 20.1h0m-7.9-10.3h0m10.5 8.9h0m2.5-13h0m-7.8-7.2h0m-5.1 19.9h0m-0.8-11h0m12.7 8.4h0m0.6-15.3h0m-7.2-1.5h0m-4.5 8.7h0m-1.1 13.5h0m14.1-17.5h0m-7.7 17.4h0m-5.6-4.7h0m12.7-11h0m-13.4-0.7h0m12 3.2h0m0.8-3.7h0m-11.7 12.4h0m-0.9 1.3h0m-1.2-0.2h0m1.1-14.3h0m10.3 16.5h0m3.8-16.9h0m-13.1 16.7h0m2.1 0.8h0m9.3-22.5h0m-11.4 6.8h0m-0.8-1.3h0m10.8 17.1h0m-7.7-18.8h0m-3.2 6.6h0m10.2 9.6h0m-9.7-13.8h0m7.7-6.6h0m4.7 1.7h0m-10.3 22.4h0m0-1.7h0m10.6-22h0m-1.5 15.9h0m1.6-5.4h0m-7.7-10h0m3.5 19.8h0m-9.3-3.5h0m11.6-0.6h0m1-0.6h0m-3.7-16.3h0m-0.9 25.2h0m-1.5 0.2h0m0.1-0.6h0m7.1-19.6h0m-5.4 18.6h0m3.6-10.7h0m-3 11.8h0m-9.1-18h0m10.7 13.8h0m-10-6.2h0m0.6 8.6h0m-1-3.1h0m-0.5-10h0m9.7-11.4h0m-3 2.2h0m6.3 11.4h0m-13 2.3h0m3.8 10.1h0m-4-11.5h0m13.5-11.6h0m-14.3 15h0m1.3 0h0m13-10.1h0m-8.5-4.5h0m-1.5 23.9h0m9.4-6.7h0m-1.5-19.2h0m-11.5 21.6h0m-0.7-8.7h0m10.2 10.3h0m3.7-11.9h0m-4.8-10.7h0m2.6 22h0m-4.3-22.1h0m5.7 12.3h0m1.3-4.9h0m-12.4 4.8h0m6.5 12.6h0m-3.8-20.7h0m-2.5 14.8h0m13.1-10.1h0m-13.1 13.4h0m-0.2-4.3h0m13-8.5h0m-0.3 3.5h0m-2.1 8.2h0m-8.4 3.2h0m10.3-23.5h0m-2.9-2.3h0m2.9 10h0m-12.5 1.8h0m1.3-5.8h0m7.2-6.5h0m-10.4 12.8h0m6.7 14.2h0m7.7-15.9h0m-3.3-10.5h0m-5.8 4.5h0m-3.7 4.5h0m9.7 17.7h0m2.6-5.3h0m-12.3-4.3h0m12.8-11.1h0m-1.7 9.5h0m-11.9-6.9h0m1.3 12.4h0m-1.2-5.7h0m13.3-10.8h0m-11.4 5.2h0m7.7-9.4h0m-8.2 7.4h0m11.2-5.2h0m-9.5 1.2h0m11.3 4h0m-1.4-0.7h0m-12.5 9.3h0m1.6-10.2h0m-1.6 16.3h0m0.7-18.1h0m12.9 11.7h0m-0.6-5.9h0m-1.9 3.1h0m-7.8-9.4h0m8.6 2.1h0m-12.1 18.1h0m10.5-4.6h0m-0.1 4.1h0m1.2-5.2h0m-7-12.9h0m2-3.4h0m-5.1 16.8h0m-2-11.6h0m12.8-7.3h0m-4.1 26.1h0m4.8-13.4h0m0.2 6.7h0m-5.9-18.1h0m-5.3 4.1h0m2.2 19.9h0m4.7-25.8h0m3.7 8.4h0m0.4-6.3h0m-12.1 8.3h0m9.2-9.6h0" stroke="#111" stroke-width="0.7" stroke-linecap="round" fill="none"/>
<path d="M280.52 324.12 L282.28 319.08 Q283 317 284.32 315.24 L286.18 312.76 Q287.5 311 289.49 310.07 L292.81 308.53 Q294.8 307.6 296.9 308.25 L301.1 309.55 Q303.2 310.2 304 312 L304 312 Q304.8 313.8 303.5 315.57 L297.6 323.63 Q296.3 325.4 294.25 326.2 L287.55 328.8 Q285.5 329.6 283.61 328.47 L281.69 327.33 Q279.8 326.2 280.52 324.12Z" fill="none" stroke="#666" stroke-width="1"/>
<path d="M107.35 577.56 L108.95 576.44 Q111 575 113.24 573.9 L115.26 572.9 Q117.5 571.8 118.75 572.65 L118.75 572.65 Q120 573.5 120.13 576 L120.47 582.5 Q120.6 585 120.56 587.5 L120.44 595.5 Q120.4 598 119.95 600.46 L119.45 603.14 Q119 605.6 116.5 605.6 L115.5 605.6 Q113 605.6 111.05 604.04 L110.45 603.56 Q108.5 602 107.07 599.95 L106.43 599.05 Q105 597 104.86 594.5 L104.64 590.5 Q104.5 588 104.72 585.51 L105.08 581.49 Q105.3 579 107.35 577.56Z" fill="#0a0a0a" filter="url(#blur1)"/>
<path d="M120.8 595.6h0m-17.5 1.3h0m3.8 1.5h0m-2.3-0.4h0m4.2 2.6h0m-0.6 1.8h0m-1.2-2.2h0m13.9-26.7h0m-16.2 25.2h0m16.1-17.9h0m-0.3-0.1h0m-13.6 20h0m4.5-25.7h0m-6.8 17.3h0m15.6-17.1h0m-2.1-3h0m-11.5 5.7h0m12 21.9h0m2.4-21.6h0m-0.8 8.8h0m-15.5 0.4h0m15.5 9.3h0m-1 1.4h0m0.3 2.7h0m1.7-25.3h0m-16.6 7.5h0m15 15.1h0m-10 5.3h0m-5.8-12.5h0m17-17.6h0m-7.3 31.7h0m-8.9-8.5h0m12.4 9.1h0m-12.5-11.7h0m1.4-15.5h0m13.6 17.3h0m0.4-3.7h0m-0.6-0.7h0m0.1-7.7h0m1.5-3.4h0m-7.7-5.1h0m-8.9 15.7h0m10.3 15.7h0m4.9-11.9h0m-15.5-11.9h0m0.8 4h0m8.7-13.1h0m8.2 12.6h0m-15.3 11.9h0m-1.7-6.2h0m9.6-18.4h0m-9.3 8.7h0m7.7-7.3h0m-0.5-1h0m7.7 27.3h0m0.7-4h0m-1-3.3h0m-2.4 12.8h0m3.3-8.7h0m-4.2-25h0m1.3 32.3h0m2-5h0m0.3-22.2h0m1.9 18.6h0m-1-21.4h0m-1.3 2.3h0m-15.8 5.6h0m6.7-8.6h0m2.7-0.8h0m-4.3 1.6h0m11.1 5.6h0m-14.9 7.1h0m11.6 17.6h0m-10-5.8h0m6.1-24.6h0m-7.9 20.7h0m15.3-11.8h0m-5.2 21.1h0m5.3-19.8h0m-8 17.9h0m8.7-15.9h0m-1.4-3.7h0m-10.8 17.5h0m-4-14.3h0m-1.3 6h0m2.8-13.1h0m12.6 9.2h0m-13.7 0.9h0m4.6 12.7h0m11.8-27.9h0m-6.2-2.8h0m-10.9 19.3h0m14.6 11.6h0m-13.2-3.1h0m0.1-0.4h0m7-25.7h0m-7.8 15.2h0m5.2 13.9h0m10.9-15h0m-3.4 17.7h0m-6.1-30.8h0m-5.3 3.5h0m14.3 11.5h0m-1.7 6.4h0m0.8 2h0m-13.9 0.3h0m-1.7-9.4h0m0.2-3.9h0m-1 12.4h0m12.8-23.9h0m-0.8 31.2h0m-1.3-31.8h0m5.7 22.2h0m0.5 1.7h0m-0.6-14.7h0m-14.7 14.9h0m4.9-21.1h0m2 26.9h0m-6.6-9.3h0m15.4-11h0m-14.8-5.8h0m-1 18.1h0m15.5-17.9h0m-9.2-1.7h0m9.2 18.8h0m-0.8-9.8h0m-5.4 22h0m3.5-1.4h0m-7.7-3.5h0m-5-11.2h0m15.1 10.2h0m-3.6 5.2h0m1.5-0.1h0m0.9-10.2h0m-3.5-22.3h0m-1.3 33.5h0m-0.4-33.4h0m-8.7 7.8h0m15 6.1h0m-2.1 19.4h0m-0.1-34.3h0m-13.7 23.6h0m16.9-2.5h0m-12.4-15.7h0m-5.1 11.5h0m16.9 1.5h0m-3.8 15.5h0m-2.8 0h0m6.4-21.1h0m-0.4 0.8h0m-14.7-1.8h0m6.9-9.4h0m3.3-2.1h0m4.6 11.4h0m-14.8 13.1h0m0.8 2.6h0m14.5-18.8h0m-11.7 22.3h0m11.7-18.5h0m-15.3 7.2h0m14.6-17.8h0m-9 0.5h0m-7.3 20.5h0m6.8 8.8h0m-5.8-20.7h0m6.5 21.5h0m9.9-8.8h0m-16.5-13.3h0m7.2-7h0m0.7-0.7h0m5.2-2.8h0m2.2 10.7h0m-13.2-5.9h0m0 24h0m9.6-28.7h0m4.1 21.8h0m-12.8 5.9h0m9.6 4.9h0m-6.6-0.9h0m3.3-28.1h0m-6.1 26h0m2.1-25.7h0m-4.3 14.2h0m0.6 8.9h0m11.5-27.6h0m-4 3.4h0m0.2-2.7h0m-1.5 3.4h0m-7.4 17.7h0m8.9 12.7h0m-8.5-27.7h0m-0.8 6.5h0m17.1-5.8h0m-16.8 12.7h0m14.3 4.2h0m1.7-12.2h0m-8.9 20.3h0m-6-20.8h0m10.2 22.4h0m-10.6-14.8h0m14.6-3.2h0m-8.2-12.9h0m-7 9.9h0m3.1 18.7h0m-2.8-4.2h0m15-2.6h0m-10.7 4.7h0m10-3.4h0m-10.6-20.5h0m-3.3 21.7h0m14.9-5.2h0m-0.7 3.4h0m-15.3-9.2h0m10.7 17.7h0m-4.8-29.8h0m8.5-2.4h0m-10.6 27.8h0m11.2-19.5h0m-13.8 8.4h0m-1-6.8h0m1.8-6.1h0m13.8 21.2h0m-0.7 2.4h0m-15.5-10h0m6.5 15.4h0m-1.5-32.1h0m-3 15.7h0m15.3-6.4h0m-17-0.9h0m-0.8 3.6h0m18.1 9.9h0m-13 6.2h0m11.8-16.7h0m0.1 5.2h0m0.9-3.1h0m-16.3-2.4h0m-1.1-0.2h0m2 12.7h0m-0.8-13.6h0m2.5-8.1h0" stroke="#111" stroke-width="0.7" stroke-linecap="round" fill="none"/>
<path d="M96.98 561.74 L115.72 547.46 Q116.2 547.1 116.51 547.62 L123.39 559.28 Q123.7 559.8 123.25 560.2 L107.35 574.2 Q106.9 574.6 106.3 574.58 L97.1 574.22 Q96.5 574.2 96.5 573.6 L96.5 562.7 Q96.5 562.1 96.98 561.74Z" fill="none" stroke="#666" stroke-width="1"/>
<radialGradient id="gf2" gradientUnits="userSpaceOnUse" cx="200.5" cy="560" r="11"><stop offset="0" stop-color="#bcbcbc"/><stop offset="1" stop-color="#f6f6f6"/></radialGradient>
<path d="M185.98 563.84 L193.72 554.36 Q194.1 553.9 194.67 553.71 L204.83 550.39 Q205.4 550.2 205.65 550.74 L210.75 561.76 Q211 562.3 210.57 562.72 L199.93 573.18 Q199.5 573.6 198.9 573.65 L186.6 574.75 Q186 574.8 185.98 574.2 L185.62 564.9 Q185.6 564.3 185.98 563.84Z" fill="url(#gf2)"/>
<path d="M202.4 552.9h0m1.8 7.8h0m-9.7 0.7h0m-5.1 8.1h0m12.6-4.8h0m4.1-1.3h0m-2.2-0.3h0m-10.9 1h0m10.2-8.5h0m-0.3-0.5h0m2 9.9h0m-9.5-6.6h0m0.6 2.3h0m-7.7 11.5h0m15.6-13.3h0m-10.7-2.2h0m14.7 1.6h0m-13.9-0.4h0m10.4 2.3h0m-7.1 9.9h0m-6-7.7h0m2.2 7.6h0m14.8-10.1h0m-2.8 2.3h0m-18.3 10.5h0m18.7-16.6h0m0.7 5.5h0m-4.8 5.3h0m-10.1-5.2h0m2.3 10.3h0m2.2-15.7h0m-4.9 16.6h0m-3.8-7.7h0m8.8 1.8h0m4.6-9.9h0m5.6-0.5h0m-18.9 15.9h0m2.3-11.1h0m0.3 4.1h0m14.6-2.6h0m-10.6 6.3h0m7.3-5.6h0m1.4-8.8h0m-3 8.2h0m-4.3 9.3h0m3.4-8.4h0m-6.8-3.1h0m8.5-6.8h0m5.4 7.8h0m-8.2-0.3h0m4.4-0.9h0m-2 10.5h0m3.4-12.1h0m1.4 2.5h0m3 2.6h0m-7.4-7.1h0m-12.7 7.9h0m6.2-4.9h0m8.3 6.2h0m-1.4 4.4h0" stroke="#999" stroke-width="0.6" stroke-linecap="round" fill="none"/>
<path d="M203.7 560.6h0m-4.2-3.1h0m0.1 7h0m0.5-8.8h0m-1.1 3.3h0m-1.8-0.4h0m6-4.8h0m-1.7 5.3h0m-2.8 0.2h0m-0.8 0h0m-1.1 0.8h0m5.4-3.5h0m-2.9-3.5h0m1.1 8h0m-2.7 3.5h0m-0.9-0.8h0m4.1-7.3h0m-3 3.2h0m8.7-0.4h0m-10.1 6h0m6.3-2.4h0m-8.2 0.5h0m4.1 1h0m3.7-8.6h0m-0.4 0.8h0m-0.3 1.1h0m-4.7 6.7h0m0.7-4.9h0m1.5 6.6h0m5.7-5.8h0m-9-4h0m9.1 2.6h0m-1.3 3.3h0m-4.7 2.6h0m0.3-6.8h0m3-3.5h0m-4.6 2.4h0m1.7-1.4h0m1.4 2.7h0m3.8-2.3h0" stroke="#888" stroke-width="0.6" stroke-linecap="round" fill="none"/>
<path d="M186.74 580.7 L189.86 578.8 Q192 577.5 194.29 576.5 L197.71 575 Q200 574 202.31 573.04 L203.69 572.46 Q206 571.5 208 571.55 L208 571.55 Q210 571.6 210.3 574.08 L210.7 577.52 Q211 580 211 582.5 L211 592.5 Q211 595 210.88 597.5 L210.62 603.3 Q210.5 605.8 208 605.8 L205.5 605.8 Q203 605.8 200.6 605.11 L197.4 604.19 Q195 603.5 192.7 602.52 L190.3 601.48 Q188 600.5 186.69 598.37 L185.91 597.13 Q184.6 595 184.6 592.5 L184.6 584.5 Q184.6 582 186.74 580.7Z" fill="#0a0a0a" filter="url(#blur1)"/>
<path d="M198.9 604.3h0m-9.2-2.5h0m2.3-23.6h0m-7 13.9h0m21.6-21.8h0m-4.6 2h0m4.2 31.5h0m5.9 1.5h0m-0.7-27.8h0m-27.1 16.5h0m26.4-12.7h0m-24-0.5h0m11.7 23h0m12.2-26.2h0m-0.4 21.8h0m-10.4 5.8h0m11.4-21.1h0m-9.6 22h0m-5.8-30.9h0m6.5 30h0m8.3-33.5h0m-25.1 17.5h0m18.4-16.7h0m-4.1 2.9h0m-12.5 25.4h0m17.5 5.3h0m5.4-19.2h0m0.7 9.5h0m-10.8-23.3h0m8.8-1.1h0m-20.5 6.9h0m23.4 23.9h0m-1.6-23.8h0m0.5 25h0m-12.9-31.5h0m14.4 20.3h0m-25.6 3.4h0m2.7 5.5h0m3.8-24.3h0m5.5 25.9h0m-11.6-6.7h0m-2.5-3h0m23.8-22.5h0m-14.3 6.5h0m15.9 18.9h0m-8.9 8.9h0m-15.3-23.4h0m-0.4 2.8h0m2-3h0m4.5 23.1h0m6.2-31.1h0m-13.7 10.3h0m2.3-1.8h0m14-8.9h0m-9.2 27.7h0m-5.8-19.9h0m25.3 19.8h0m-26.4-19.8h0m4.4 20.2h0m21 3.6h0m-24.8-9.4h0m13.5-21.7h0m13 9.8h0m-1.1 21.8h0m-14.2-1.7h0m-10.1-24h0m24 24.6h0m-25.8-15.2h0m10.7-12.7h0m-2.2-0.8h0m17.3 26.4h0m1-19.6h0m-22.6-1.7h0m22.2 10.5h0m-5.2 16.4h0m-21.3-14.9h0m9.7-14h0m3.5-5.2h0m9-0.8h0m3.3 26.7h0m-22.3 0.8h0m20-30.3h0m-10.3 6h0m14.2 7.1h0m1.7 8.7h0m-1.8-20.5h0m-1.4 21.2h0m-24.8-12h0m26.1 0.8h0m-0.7 9.3h0m0.6 1.8h0m1-8.9h0m-26.7 12.1h0m23.4-22.6h0m1.2 25.1h0m-26.8-15.2h0m9.9-8.3h0m12.9 30.7h0m-13.4-0.6h0m9.8 0h0m-18-18.4h0m26.8-2.8h0m-25.7 11.4h0m1.3-13.1h0m23-8.4h0m-25.1 15.1h0m11.7 15.8h0m6.2-32h0m-9.5 3.3h0m4.7 28h0m-13.7-9.1h0m26.8-3.4h0m-26.2-9.2h0m25.7 19.1h0m-6-28.6h0m6.4 27.1h0m-13.9 3.7h0m12.4 4.2h0m0.2-17.5h0m-21.3-11h0m17-6.8h0m4.8 9.6h0m0.8 9.8h0m-18.6 11.1h0m19.5-21.1h0m-9 23.5h0m-17.1-18.5h0m25.1-8.7h0m-25.8 14.5h0m1.4-12.6h0m6.3 23.6h0m17.4-23.1h0m-2.3 25.2h0m-17.3-4.8h0m-2.9-0.5h0m-2.3-12.1h0m25.8 20.2h0m-15.5-4.7h0m15.8-28.2h0m-1.9 14.7h0m-20.4-11.5h0m12.4-3.5h0m-5.2 2.6h0m3.1 27.6h0m-14.2-21.5h0m8.5 18.9h0m17.5-4.1h0m-1-19.8h0m-10.6-5.3h0m-7.8 28.3h0m10.2 3.3h0m-10.3-26.4h0m19 15.5h0m-26.9 0.6h0m26.1-15.8h0m-0.3 13.8h0m-15.5-18.3h0m16.8 24.4h0m-17.9 3.4h0m17.4-3.5h0m0.9 5.4h0m0.6-17.5h0m-8.5 18.3h0m8.3-6h0m-24.8 1.3h0m16.7-27h0m-12.5 4.7h0m-6.4 14.5h0m19.2-19.1h0m8.2 14.8h0m-20.5-12.5h0m19.5 17.6h0m-15.6-17.3h0m-1.8 1.4h0m-2.9 1h0m16.1 27.2h0m-22.5-18.6h0m26.7-9.8h0m-25.6 4.9h0m-2 9.5h0m19.2 14.8h0m7.8-8.3h0m-18.5 4.4h0m-6.1-20.8h0m19.5-9h0m5.2 28.4h0m-4.9 5.6h0m-17.6-7.3h0m-1.2-6.5h0m13.1-18.1h0m-15.3 12.9h0m27.1 8.7h0m-27.1-6.5h0m2.1-7.6h0m-1.8 4.6h0m11.9 15.5h0m-10.6-10.4h0m23.1 13.6h0m-1.3-1.8h0m-0.7-31.1h0m4 21.8h0m1 9.6h0m-11.5 0.4h0m-0.3-33.2h0m-15.6 15.6h0m25.7-7.7h0m1.1 12h0m-6.3 14.1h0m-1.5-0.8h0m8.5-4.5h0m-12.6-26h0m11.6 16.6h0m-0.7 6.5h0m0.8-10.5h0m-20-8.5h0m18.6 19.6h0m-24.4-0.2h0m5.6 4.3h0m1.7 0.4h0m-10.1-9.5h0m18.2 12h0m8.8-4.3h0m-15.3 3.3h0m-7.7-8.8h0m24.9 6.1h0m-5 4h0m-6.7-1.3h0m-15.1-19.2h0m-0.3 5.5h0m14.2-14.6h0m-12.8 20.4h0m25-14.6h0m0.7-0.4h0m-15.5-5.3h0m-7 2.7h0m5.8 24.2h0m5.1-28.7h0m10.8 15.4h0m-0.6-15.4h0m-20.9 5.4h0m16.4 27.2h0m2.5-33.9h0m2.6 16.8h0m1.3-13.8h0m-11.8-1h0m8.6 12.9h0m-0.3 16.2h0m-18.4-0.1h0m-1-0.8h0m19.8-26.9h0m1.1 15.6h0m-25.1-8.6h0m7.7-3.3h0m1.7-1.9h0m-10.6 10.5h0m26.4-13.4h0m0.1-2.5h0m0.7 15.8h0m-23.5 12.2h0m6.2 1.9h0m18.1-11.2h0m-0.2 0h0m-3 15.7h0m-14.1-2.3h0m7.9 1.6h0m-12.8-4.9h0m-0.7-0.3h0m22-9.8h0m-21.1-9.9h0m19.1-7.2h0m-19.2 7h0m2.1-4.1h0m19.6 19.2h0m-26.8-3.3h0m10.9 11.1h0m-0.1 1h0m16.4-22.4h0m-24.4 15.3h0m5.4-20.7h0m-8 18.2h0m25.7-19.5h0m0.3 12.1h0m-9.6-15.1h0m-16.2 20h0m4.5-13.8h0m19.8 14.8h0m-1.6-22.5h0m-4.9 35.2h0m-4.4-2.4h0m5.6-29h0m2.4-3.6h0m-14.6 31.9h0m18.4-3.4h0m-14.5-23.6h0m-3 0.7h0m17.5 7.3h0m0.7-0.9h0m-11.4 21.5h0m-6-28.9h0m16.6 28.7h0m-25.1-14.4h0m12.1-15h0m13.3 29h0m-4.8-34.7h0m5.6 10.4h0m-26.6 17h0m10.5 5.7h0m9.6 2.3h0m-21.1-19.1h0m1.4 0.5h0m0 5.1h0m12.6 12.9h0m-2.5-27.8h0m-4.2 25.7h0m12 3.3h0m7.4-27.3h0m-9.6 27.4h0m6.8-33.3h0m-5.2 33.3h0m-15.9-19.3h0m3.1 14.6h0m-0.8 0.3h0m9-26.2h0m-12.1 9.2h0m26.2 17.5h0m-1.8-21.7h0m-0.2 1h0m-19.6 20.5h0m20.5-10.7h0m-20.3 11.6h0" stroke="#111" stroke-width="0.7" stroke-linecap="round" fill="none"/>
<path d="M185.98 563.84 L193.72 554.36 Q194.1 553.9 194.67 553.71 L204.83 550.39 Q205.4 550.2 205.65 550.74 L210.75 561.76 Q211 562.3 210.57 562.72 L199.93 573.18 Q199.5 573.6 198.9 573.65 L186.6 574.75 Q186 574.8 185.98 574.2 L185.62 564.9 Q185.6 564.3 185.98 563.84Z" fill="none" stroke="#666" stroke-width="1"/>
<radialGradient id="gf3" gradientUnits="userSpaceOnUse" cx="286" cy="560" r="12"><stop offset="0" stop-color="#a9a9a9"/><stop offset="1" stop-color="#f2f2f2"/></radialGradient>
<path d="M272.57 561.63 L279.73 552.57 Q280.1 552.1 280.66 551.88 L291.24 547.82 Q291.8 547.6 292.07 548.13 L298.13 559.97 Q298.4 560.5 297.93 560.88 L283.47 572.52 Q283 572.9 282.4 572.9 L272.8 572.9 Q272.2 572.9 272.2 572.3 L272.2 562.7 Q272.2 562.1 272.57 561.63Z" fill="url(#gf3)"/>
<path d="M274.6 567.9h0m21.3-9.6h0m-17.2 10.5h0m6.6-2.4h0m-0.3-11h0m-4.7 12.6h0m-0.9 0.5h0m4.3 2.6h0m-5.1-13.3h0m-3.1 12.1h0m12.6-15h0m5.1 3.7h0m-13.8-3.1h0m12.1 7.8h0m-14.9 1.6h0m11.9-0.4h0m-13.1 2h0m9.5-6.7h0m-0.1-0.7h0m7.9 1.3h0m-1.9 1.2h0m1.6-6.3h0m-3.5 7.2h0m0.6-3.7h0m-2.5-1.7h0m1.3 4.3h0m6.8-1.7h0m-14.1-1.7h0m5 7.7h0m3.8-0.1h0m-14.1 2.4h0m4.4-10.3h0m9.5 0.6h0m-3.7-1.6h0m0.5 6.7h0m-12.7 1.3h0m3.2 1.3h0m15.9-4.9h0m-6.9 2.9h0m5.8-14h0m-3.5 8.2h0m-7.5 2.7h0m6.7 2.9h0m0.9-4.2h0m-13 11.6h0m18.4-11.6h0m-5.6-3.2h0m-4.1 14.4h0m-8.6-6.5h0m5.9-6.4h0m-4.4 3.3h0m4.9-3.5h0m12.2 3h0m-11.2 6.4h0m3.7-7.7h0m-5-3.1h0m-6.3 6.7h0m3.9 2.5h0m5.8-10.4h0m-5.3 12.8h0m-5.6-1.6h0m6.2-1.4h0m7.8-0.2h0m5.7-2.7h0m-3-3.6h0m-10.3 7.1h0m2.7-6.2h0m1.8-5.5h0m-7.4 16.2h0m14.9-17.6h0m-16 15.4h0m17-4.5h0m-11.2-6.2h0m7.2 2.6h0m-8.5-5.2h0m9.5 1.3h0m-14.5 5.6h0m16.7-9.6h0m-9.7 1h0m2.5 0.7h0" stroke="#999" stroke-width="0.6" stroke-linecap="round" fill="none"/>
<path d="M284.4 560.2h0m-0.2 2.6h0m7.3-4.8h0m-0.9 0.1h0m-8.1 0.8h0m-1.3-1h0m3.2 5.7h0m1.2-6h0m-1.1 4.3h0m7.2-4.3h0m-2.6 7.8h0m-8.4-7.9h0m5.1 5h0m4.6-0.9h0m-8.4-2.8h0m5.2 8.2h0m-5.1-6.4h0m0.4-2.5h0m6-3h0m-5.7 3.3h0m1.2 5.8h0m5.1 0.6h0m-4.1-2h0m2.3 1.5h0m-4.1 0.4h0m4.2-2.8h0m-7.9 1.4h0m10.4-3h0m-4.2 4h0m-3.7-5.3h0m-1.3 3.3h0m2.1 1.7h0m3.4-2.8h0m4.5-4.4h0m-4.1 10.3h0m-1.1-0.3h0m3.3-13.1h0m-3.3 5.2h0m-3.3 6.3h0m1.9-10.1h0m5.7 2.5h0m-8 4.9h0m7.8-2.2h0m-3.1 0.9h0m-2.8 1.1h0m-1.6-2.6h0m0.9-0.7h0m5.3 1.9h0m-0.6-5.7h0m-7.7 2.4h0m5.1 4.1h0m-5.6-2.7h0m7.3 6.8h0m-0.4-6.7h0m-2.2 7.4h0m-0.9 1.1h0m-1.2-4.5h0m0.5 4.4h0m6.2-2.7h0m-7.4-3.5h0m3.2 3.8h0m0.4-10h0m-2.3 4h0m7.2 1.6h0m-0.6-1.9h0m-5 5.7h0m-2.5 1h0m0.1-7.5h0m3.1 0.9h0m5.2 0.2h0" stroke="#888" stroke-width="0.6" stroke-linecap="round" fill="none"/>
<path d="M274.05 577.91 L276.75 576.59 Q279 575.5 281.4 574.81 L283.6 574.19 Q286 573.5 288.37 572.71 L289.63 572.29 Q292 571.5 294.5 571.42 L295.5 571.38 Q298 571.3 298.15 573.8 L298.65 582.5 Q298.8 585 298.8 587.5 L298.8 597.5 Q298.8 600 298.46 602.48 L298.34 603.32 Q298 605.8 295.5 605.8 L286.5 605.8 Q284 605.8 281.6 605.11 L279.4 604.49 Q277 603.8 275.07 602.21 L274.93 602.09 Q273 600.5 272.61 598.03 L272.19 595.47 Q271.8 593 271.8 590.5 L271.8 581.5 Q271.8 579 274.05 577.91Z" fill="#0a0a0a" filter="url(#blur1)"/>
<path d="M270.9 594.2h0m8.6-17.7h0m1.4 28.6h0m15.4-22.1h0m1.8 13.4h0m-26.2-5.5h0m26.2 3.9h0m-26.1 0.2h0m27.8 9.9h0m-27-26.7h0m-1.1 0h0m26.3 8.9h0m0.8 8.5h0m0.7 5.7h0m-8.4 4.5h0m-10.8-2.3h0m18-27.6h0m-25.8 10.4h0m0.6 1.8h0m7.7 17.5h0m-8.5-25.8h0m6.7-4.1h0m-1.1 26.1h0m15.1-30.9h0m7.3 15.9h0m-17.5 19.4h0m-10.8-19.1h0m19.4-15.9h0m6.9 21h0m-22.6 10.3h0m22.4-14h0m1 0.1h0m-26.4 0.8h0m8.7-14.7h0m5.8-1.2h0m-7.8 1.4h0m4.1 31.4h0m-1.7-0.7h0m-2.3-31.1h0m8 31.3h0m6.5-0.5h0m-24.1-15.2h0m28.4 3.2h0m0.1-6.4h0m-1 16.1h0m-25.3-5.6h0m-0.8-13.4h0m0.5 2h0m23.4 21.9h0m-5.6-0.9h0m8.3-10.8h0m-27.4-13.3h0m24.7-9.6h0m3.6 3.3h0m-1.5 27.1h0m-26.1-15.5h0m2 3.7h0m25.1 9.2h0m1.6-3.2h0m-28-5.9h0m18.3-22.2h0m8.6 36.5h0m-10.3-0.6h0m-1-32.1h0m0.2-0.1h0m-1.7-0.6h0m1.2 34.2h0m10.1-34.2h0m0.3 25.6h0m2.9-4h0m-26.1 8.3h0m9.2 3.1h0m-7-29.8h0m10-2.7h0m-5.7 31.9h0m18.2-8.7h0m-0.5-21.6h0m0 31.1h0m-22.8-28.3h0m7.3 26.7h0m13.6 1.1h0m1.6-27.6h0m-26.8 12.4h0m2.5 9.5h0m-2.2-7.1h0m24.5 12.8h0m-13.7-31.3h0m7.6 31.6h0m-6.4 0h0m13.4-8.9h0m-17.7 8.5h0m-0.9-29h0m21.7 8.2h0m-27.5-3.6h0m0.7 7h0m26.4 1.6h0m-0.6 11.1h0m-3.8 3.1h0m-14.7-29.4h0m-4.6 29.8h0m22.6-10.1h0m0.3-4.3h0m-26.7-3.7h0m16.4 18.8h0m-15.3-26.7h0m25.7 17.3h0m-26.1-16.8h0m24.8 21h0m-2.1 7.6h0m-5.9-1.2h0m4.5-33.5h0m4.1 20.3h0m-26.6-4.9h0m24.8-15.1h0m1.8 1.8h0m0.4 16.5h0m-26.8 3.1h0m16.7 10.9h0m11-9.9h0m-26.4-13.9h0m18.2-10.3h0m-8.5 2.3h0m15 17.9h0m-0.2 9h0m-25.4-3.1h0m26.4-9.7h0m-26.1 9.3h0m17.9 7.8h0m-13.7-27.8h0m10.3-4h0m-2.2 1.1h0m-7.7 28.7h0m22.9-14.3h0m-0.5 4.1h0m-28.4-12.9h0m0.8-1.4h0m1.6 13.5h0m-2.1-5.7h0m13.8 19.6h0m14-8.4h0m-7 9.7h0m-20.1-18.5h0m25.6-7.7h0m-5.5 23.3h0m-15.6-1.6h0m21-3h0m1 3.5h0m-6.1 4.4h0m-21.1-23.6h0m25.9 10.7h0m-25.8-2.5h0m26.2 6.5h0m1.6-4h0m-26.7-12.5h0m0.2 12.7h0m-1.3-9.4h0m25-12.6h0m-16.4 2.7h0m-8 8.1h0m-0.9 6.5h0m25.1 15.6h0m2.9-4.9h0m-12.2 5.4h0m-1.9-0.2h0m10.8-34.2h0m-23.6 27.7h0m-1.4-18.8h0m7.7-5.6h0m-8.3 6.7h0m5 20.9h0m-2.5-12.8h0m0.7-12.6h0m17.1-5.3h0m7.6 0.9h0m-28 11.7h0m7.1 20.6h0m-4.7-20.6h0m-1.6 6.9h0m5.9-14.6h0m-6.1 5.6h0m1.7-0.4h0m25.7 22.8h0m-0.6-28.3h0m-21.7 1.5h0m21.6-6.5h0m-13 2.4h0m15-0.2h0m-9.2 32.6h0m8-15.1h0m0.2-14.7h0m-0.8 24.6h0m-25.2-12.7h0m25.5 8.1h0m-2.2-24.6h0m3 6.7h0m-0.9 7.6h0m-3.9 21h0m-22.3-8.1h0m26.8-11.9h0m1-0.7h0m-9.4-16.1h0m-16.5 25.1h0m13.6-23.9h0m-6.1 3.1h0m6.9 31h0m8.7-10.4h0m-24.1-8.2h0m26.5 11.7h0m0.2-8.5h0m-28 1.7h0m26.9 13.3h0m-0.9-31.1h0m-7.2 33.1h0m-19.1-27.6h0m6.2-2.9h0m22.4 17.6h0m-28.6-16.7h0m23.3-6.4h0m3.6 5h0m-22.9 25.6h0m8-26.9h0m16 4h0m-8.7-7.4h0m-2.8 33.7h0m9.5-33.1h0m-9.4 32.9h0m-15.9-13.9h0m0.2-1.3h0m1.6-0.7h0m27.2 4.8h0m-2.5-7.1h0m-0.3-13.1h0m1.3 18.5h0m-8.2-20.3h0m8 30.9h0m-21.2 1.8h0m-6.2-11.4h0m26.5 10.9h0m-0.4-29.9h0m-22.2 3.7h0m-4.3 10.8h0m27.4-5.9h0m-26.7 5.1h0m27.3-0.9h0m-0.9-12.7h0m-0.2 30.4h0m-21.5-1.4h0m22.4-24.9h0m-12.6 27.2h0m2.7-34.5h0m-16.6 18h0m6.2 15h0m6.7 0.9h0m-14.7-23.3h0m27.1-7.3h0m-17.4 30.6h0m-3.2 0h0m15.4 0.1h0m4.7-0.3h0m-2.1 0.8h0m-13.8-0.4h0m6.4-0.3h0m-12-26.5h0m12.1 27.8h0m0.1-33.8h0m12 13.1h0m-28.2 12.4h0m0.8-19.7h0m-1.1 7.3h0m0.1 12.6h0m18.2-24.6h0m8.5 11.4h0m-25.2-3.4h0m21.4-10.5h0m-13.5 3.4h0m16.4 30.1h0m-15.9 1.9h0m16.3-3.5h0m-23-0.2h0m-4.8-9.1h0m3.1 4.3h0m18.7 7.8h0m-17.2-28.8h0m7.2 27.4h0m-9.4-6.8h0m19.6 6.9h0m7.6-19.2h0m-7.4 21.2h0m-17.2-4.1h0m22.4-1.5h0m1.7-30.3h0m-18.1 3.9h0m8.8 30.8h0m-4.3-31.6h0m13.4 12.5h0m-0.3 18.4h0m-7.7-33.3h0m-18.2 25.4h0m26.7-6.6h0m-27.1-0.5h0m21.5 17.7h0m-6.3-0.8h0m11.7-7.4h0m0.4-2.5h0m-0.5-16.5h0m-0.8 8h0m-0.1-0.5h0m-14.7-14.1h0m15.1 10.1h0m-25.5-4.8h0m16.5 27.3h0m-19.8-20.2h0m9.3 19.3h0m-2.9 0.2h0m-2.8-11.6h0m-3.3 0.5h0m2.3 1.4h0m0.4 4.7h0m7.4-25.4h0m19.5 6.1h0m-28.2 11.8h0m24.9 11.9h0m-23.6-6.5h0m19.1 7.6h0m-19.7-15.9h0m10.9-18.6h0m15.1 29.5h0m1.5-16h0m-12 19.9h0m-3.2-32.4h0m12.7 9.1h0m-25.8-2.6h0m17.5 27.8h0m10.1-25.7h0m1.6 2.1h0m-3.4-12.6h0m-9.5 2h0m9.1 4.2h0m-24.9 9.1h0m4-10.4h0m16.9-2.1h0m-21.7 17.4h0m19.9 14.3h0m2.7-33h0m-19.3 30.6h0m6.3 3h0m16.6-32.2h0m1.2 0.4h0m-0.9 28.4h0m-16.6-29.4h0m17 32.4h0m-19.5-29.2h0m-7 16.6h0m22.1 12.4h0m-12.1 0.1h0m-8.6-9.8h0m24 11.9h0m-22.1-4.4h0m23.9-3.1h0m-28.6 2.4h0" stroke="#111" stroke-width="0.7" stroke-linecap="round" fill="none"/>
<path d="M272.57 561.63 L279.73 552.57 Q280.1 552.1 280.66 551.88 L291.24 547.82 Q291.8 547.6 292.07 548.13 L298.13 559.97 Q298.4 560.5 297.93 560.88 L283.47 572.52 Q283 572.9 282.4 572.9 L272.8 572.9 Q272.2 572.9 272.2 572.3 L272.2 562.7 Q272.2 562.1 272.57 561.63Z" fill="none" stroke="#666" stroke-width="1"/>
<path d="M77.5 486.4 L77.5 486.4 L78.2 483 L80.9 470 L82.5 455 L83.8 440 L85 428 L86.3 419.5 L87.4 425 L88.4 432 L89.8 444.6 L92 462 L95.5 475.7 L98 482 L102 485.9 L104.5 486.4 L104.5 486.4Z" stroke="#a5a5a5" fill="#bdbdbd" stroke-width="0.5" stroke-linejoin="round"/>
<path d="M107.6 486.4 L107.6 486.4 L108.8 480 L110.2 470 L112.8 450 L115.4 430 L118.5 420 L119.7 417.8 L121.4 430 L123.1 450 L126.6 470 L130 479 L134 484 L137.5 486.4 L137.5 486.4Z" stroke="#a5a5a5" fill="#bdbdbd" stroke-width="0.5" stroke-linejoin="round"/>
<path d="M167.7 486.5 L167.7 486.5 L170 480 L173.5 462.7 L175.8 453 L177.3 430 L178.3 422 L179 418.5 L180 423 L181.2 424.2 L181.6 430 L183 453 L185.4 462 L188.3 475 L192 482 L196.5 486.5 L196.5 486.5Z" stroke="#a5a5a5" fill="#bdbdbd" stroke-width="0.5" stroke-linejoin="round"/>
<path d="M200.8 486.5 L200.8 486.5 L202.5 470 L204.6 450 L207.5 440 L209.5 430 L210.4 425.2 L211.6 431 L212.7 433.8 L213.3 440 L216.2 460 L219 472 L221 480 L223 486.5 L223 486.5Z" stroke="#a5a5a5" fill="#bdbdbd" stroke-width="0.5" stroke-linejoin="round"/>
<path d="M257 487 L257 487 L258.5 478 L260.8 462.7 L263 440 L265.2 425 L266.5 418.1 L267.5 425 L269.4 445 L271.3 465 L273.8 475 L276.2 484 L278.5 487 L278.5 487Z" stroke="#a5a5a5" fill="#bdbdbd" stroke-width="0.5" stroke-linejoin="round"/>
<path d="M287.3 487 L287.3 487 L290.6 470 L293.5 455 L295.8 445 L297.3 434.8 L298.8 445 L301.2 460 L304 480 L306.3 487 L306.3 487Z" stroke="#a5a5a5" fill="#bdbdbd" stroke-width="0.5" stroke-linejoin="round"/>
<path d="M78.2 728.3 L78.2 728.3 L78.7 721 L80 722 L81.1 719.2 L84.2 707 L86 695 L86.8 680.3 L88 683.7 L89.4 674.2 L90.8 667.3 L91.5 659.5 L92.5 669 L93.7 679.4 L94.6 695 L95.8 710.6 L97.2 722.7 L98.4 726 L99.4 724.4 L100.1 728.3 L100.1 728.3Z" stroke="#a5a5a5" fill="#bdbdbd" stroke-width="0.5" stroke-linejoin="round"/>
<path d="M104.6 728.3 L104.6 728.3 L105.8 722.7 L107.6 712.3 L109.3 698.4 L109.8 689 L111 691.5 L112.2 684.6 L114 672.5 L115.4 659.5 L116.2 669 L117.6 684.6 L119.3 701.9 L120.6 714 L121.8 722.7 L123.7 728.3 L123.7 728.3Z" stroke="#a5a5a5" fill="#bdbdbd" stroke-width="0.5" stroke-linejoin="round"/>
<path d="M183.9 728.3 L183.9 728.3 L184.5 715 L185.6 713 L186.5 722 L188 719.5 L189.8 712.2 L191.1 697.5 L192.2 689.3 L193.4 677.4 L194.9 658.8 L196.2 677.4 L197.1 697.5 L198 714 L199.5 717.6 L200.8 728.3 L200.8 728.3Z" stroke="#a5a5a5" fill="#bdbdbd" stroke-width="0.5" stroke-linejoin="round"/>
<path d="M209 728.3 L209 728.3 L210.8 716.7 L212.6 712.2 L214.1 704.8 L215.4 690.2 L216.7 674.1 L218.1 692 L219 708.5 L220.9 720.4 L223.6 728.3 L223.6 728.3Z" stroke="#a5a5a5" fill="#bdbdbd" stroke-width="0.5" stroke-linejoin="round"/>
<path d="M280.4 728.2 L280.4 728.2 L281 724 L281.9 713.5 L282.9 698 L283.8 678.8 L284.8 660.6 L286.2 673 L287.7 698 L289.6 713.5 L291.2 723 L292 728.2 L292 728.2Z" stroke="#a5a5a5" fill="#bdbdbd" stroke-width="0.5" stroke-linejoin="round"/>
<path d="M305.3 728.2 L305.3 728.2 L305.4 714.5 L307.5 714.3 L307.8 707.5 L308 700.3 L311.8 700.3 L312.2 707.5 L312.6 714.3 L314.5 714.5 L314.8 728.2 L314.8 728.2Z" stroke="#a5a5a5" fill="#bdbdbd" stroke-width="0.5" stroke-linejoin="round"/>
<line x1="278" y1="714" x2="278" y2="728.2" stroke="#aaa" stroke-width="0.6"/>
<line x1="294.5" y1="715" x2="294.5" y2="728.2" stroke="#aaa" stroke-width="0.6"/>
</g>
<rect x="0" y="0" width="520" height="1.4" fill="#555"/>
<rect x="0" y="0" width="1.4" height="770" fill="#555"/>
<rect x="518.2" y="0" width="1.8" height="770" fill="#5a5a5a"/>
<rect x="0" y="768" width="520" height="2" fill="#777"/>
</svg>
</body></html>
